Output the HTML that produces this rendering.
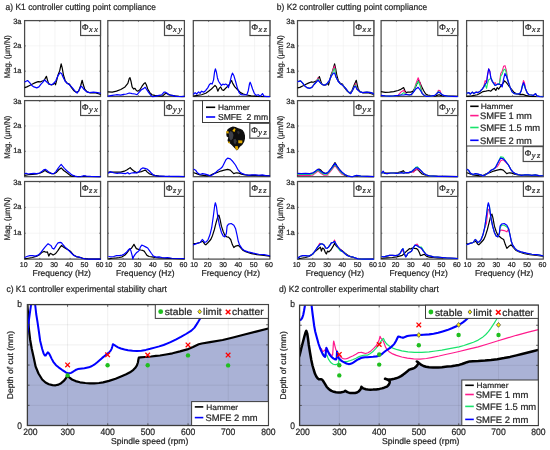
<!DOCTYPE html><html><head><meta charset="utf-8"><title>Stability charts</title><style>html,body{margin:0;padding:0;background:#fff;overflow:hidden}svg{display:block}text{stroke:#262626;stroke-width:0.22px;text-rendering:geometricPrecision}</style></head><body><svg width="550" height="450" viewBox="0 0 550 450"><defs><clipPath id="c1"><rect x="24.400000000000002" y="20.6" width="76.30000000000001" height="76.80000000000001"/></clipPath><clipPath id="c2"><rect x="107.6" y="20.6" width="77.00000000000001" height="76.80000000000001"/></clipPath><clipPath id="c3"><rect x="193.10000000000002" y="20.6" width="76.99999999999997" height="76.80000000000001"/></clipPath><clipPath id="c4"><rect x="24.400000000000002" y="100.6" width="76.30000000000001" height="77.0"/></clipPath><clipPath id="c5"><rect x="107.6" y="100.6" width="77.00000000000001" height="77.0"/></clipPath><clipPath id="c6"><rect x="193.10000000000002" y="100.6" width="76.99999999999997" height="77.0"/></clipPath><clipPath id="c7"><rect x="24.400000000000002" y="181.5" width="76.30000000000001" height="78.50000000000003"/></clipPath><clipPath id="c8"><rect x="107.6" y="181.5" width="77.00000000000001" height="78.50000000000003"/></clipPath><clipPath id="c9"><rect x="193.10000000000002" y="181.5" width="76.99999999999997" height="78.50000000000003"/></clipPath><clipPath id="c10"><rect x="297.3" y="20.6" width="76.70000000000002" height="76.80000000000001"/></clipPath><clipPath id="c11"><rect x="380.90000000000003" y="20.6" width="76.99999999999997" height="76.80000000000001"/></clipPath><clipPath id="c12"><rect x="466.40000000000003" y="20.6" width="77.09999999999994" height="76.80000000000001"/></clipPath><clipPath id="c13"><rect x="297.3" y="100.6" width="76.70000000000002" height="77.0"/></clipPath><clipPath id="c14"><rect x="380.90000000000003" y="100.6" width="76.99999999999997" height="77.0"/></clipPath><clipPath id="c15"><rect x="466.40000000000003" y="100.6" width="77.09999999999994" height="77.0"/></clipPath><clipPath id="c16"><rect x="297.3" y="181.5" width="76.70000000000002" height="78.50000000000003"/></clipPath><clipPath id="c17"><rect x="380.90000000000003" y="181.5" width="76.99999999999997" height="78.50000000000003"/></clipPath><clipPath id="c18"><rect x="466.40000000000003" y="181.5" width="77.09999999999994" height="78.50000000000003"/></clipPath><clipPath id="cc"><rect x="27.4" y="304.6" width="241.00" height="120.90"/></clipPath><clipPath id="cd"><rect x="299.6" y="305.2" width="238.70" height="120.30"/></clipPath></defs><rect width="550" height="450" fill="#fff"/><text x="5.60" y="9.90" font-family='"Liberation Sans", Arial, sans-serif' font-size="8.93" fill="#262626" text-anchor="start" textLength="150.3" lengthAdjust="spacingAndGlyphs">a) K1 controller cutting point compliance</text>
<text x="276.80" y="9.90" font-family='"Liberation Sans", Arial, sans-serif' font-size="8.93" fill="#262626" text-anchor="start" textLength="150.3" lengthAdjust="spacingAndGlyphs">b) K2 controller cutting point compliance</text>
<line x1="39.78" y1="20.6" x2="39.78" y2="96.5" stroke="#eeeeee" stroke-width="0.6"/>
<line x1="54.96" y1="20.6" x2="54.96" y2="96.5" stroke="#eeeeee" stroke-width="0.6"/>
<line x1="70.14" y1="20.6" x2="70.14" y2="96.5" stroke="#eeeeee" stroke-width="0.6"/>
<line x1="85.32" y1="20.6" x2="85.32" y2="96.5" stroke="#eeeeee" stroke-width="0.6"/>
<line x1="24.6" y1="45.90" x2="100.5" y2="45.90" stroke="#eeeeee" stroke-width="0.6"/>
<line x1="24.6" y1="71.20" x2="100.5" y2="71.20" stroke="#eeeeee" stroke-width="0.6"/>
<line x1="39.78" y1="96.5" x2="39.78" y2="95.3" stroke="#4a4a4a" stroke-width="0.8"/>
<line x1="39.78" y1="20.6" x2="39.78" y2="21.8" stroke="#4a4a4a" stroke-width="0.8"/>
<line x1="54.96" y1="96.5" x2="54.96" y2="95.3" stroke="#4a4a4a" stroke-width="0.8"/>
<line x1="54.96" y1="20.6" x2="54.96" y2="21.8" stroke="#4a4a4a" stroke-width="0.8"/>
<line x1="70.14" y1="96.5" x2="70.14" y2="95.3" stroke="#4a4a4a" stroke-width="0.8"/>
<line x1="70.14" y1="20.6" x2="70.14" y2="21.8" stroke="#4a4a4a" stroke-width="0.8"/>
<line x1="85.32" y1="96.5" x2="85.32" y2="95.3" stroke="#4a4a4a" stroke-width="0.8"/>
<line x1="85.32" y1="20.6" x2="85.32" y2="21.8" stroke="#4a4a4a" stroke-width="0.8"/>
<line x1="24.6" y1="45.90" x2="25.8" y2="45.90" stroke="#4a4a4a" stroke-width="0.8"/>
<line x1="100.5" y1="45.90" x2="99.3" y2="45.90" stroke="#4a4a4a" stroke-width="0.8"/>
<line x1="24.6" y1="71.20" x2="25.8" y2="71.20" stroke="#4a4a4a" stroke-width="0.8"/>
<line x1="100.5" y1="71.20" x2="99.3" y2="71.20" stroke="#4a4a4a" stroke-width="0.8"/>
<rect x="24.6" y="20.6" width="75.90" height="75.90" fill="none" stroke="#4a4a4a" stroke-width="1.25"/>
<g clip-path="url(#c1)">
<polyline points="24.71,87.62 26.84,86.91 29.67,85.50 32.51,84.08 35.35,82.66 38.18,81.67 40.31,81.95 41.73,81.24 43.86,80.53 45.28,78.40 46.41,76.28 47.40,79.82 48.82,84.08 50.95,84.79 53.08,84.50 54.50,82.66 55.49,84.79 56.62,80.53 58.04,74.86 59.74,70.60 61.16,63.79 62.30,68.48 63.43,74.86 65.13,80.53 67.26,83.37 69.39,84.08 71.52,87.62 73.65,90.46 76.48,92.59 78.61,91.17 80.74,85.50 82.16,80.25 83.29,84.79 84.71,89.04 87.12,91.88 90.67,93.01 94.92,92.59 99.18,94.01 101.30,94.72" fill="none" stroke="#000000" stroke-width="1.2" stroke-linejoin="round" stroke-linecap="round" />
<polyline points="24.71,81.95 27.55,80.53 29.67,82.66 31.80,85.50 33.93,86.91 36.77,87.91 38.89,86.91 41.02,84.08 43.15,81.95 44.57,79.82 45.99,81.24 47.40,82.66 49.53,84.08 51.66,84.79 53.79,83.37 55.91,80.53 58.04,75.57 60.17,72.73 61.59,73.44 63.01,76.99 65.13,81.24 67.26,83.37 69.39,84.79 72.23,87.62 75.06,91.17 77.19,93.01 79.32,89.75 81.02,86.21 82.16,86.91 83.57,89.04 86.41,91.60 89.25,92.59 93.50,92.16 97.76,92.59 101.30,93.58" fill="none" stroke="#0000ff" stroke-width="1.2" stroke-linejoin="round" stroke-linecap="round" />
</g>
<line x1="123.12" y1="20.6" x2="123.12" y2="96.5" stroke="#eeeeee" stroke-width="0.6"/>
<line x1="138.44" y1="20.6" x2="138.44" y2="96.5" stroke="#eeeeee" stroke-width="0.6"/>
<line x1="153.76" y1="20.6" x2="153.76" y2="96.5" stroke="#eeeeee" stroke-width="0.6"/>
<line x1="169.08" y1="20.6" x2="169.08" y2="96.5" stroke="#eeeeee" stroke-width="0.6"/>
<line x1="107.8" y1="45.90" x2="184.4" y2="45.90" stroke="#eeeeee" stroke-width="0.6"/>
<line x1="107.8" y1="71.20" x2="184.4" y2="71.20" stroke="#eeeeee" stroke-width="0.6"/>
<line x1="123.12" y1="96.5" x2="123.12" y2="95.3" stroke="#4a4a4a" stroke-width="0.8"/>
<line x1="123.12" y1="20.6" x2="123.12" y2="21.8" stroke="#4a4a4a" stroke-width="0.8"/>
<line x1="138.44" y1="96.5" x2="138.44" y2="95.3" stroke="#4a4a4a" stroke-width="0.8"/>
<line x1="138.44" y1="20.6" x2="138.44" y2="21.8" stroke="#4a4a4a" stroke-width="0.8"/>
<line x1="153.76" y1="96.5" x2="153.76" y2="95.3" stroke="#4a4a4a" stroke-width="0.8"/>
<line x1="153.76" y1="20.6" x2="153.76" y2="21.8" stroke="#4a4a4a" stroke-width="0.8"/>
<line x1="169.08" y1="96.5" x2="169.08" y2="95.3" stroke="#4a4a4a" stroke-width="0.8"/>
<line x1="169.08" y1="20.6" x2="169.08" y2="21.8" stroke="#4a4a4a" stroke-width="0.8"/>
<line x1="107.8" y1="45.90" x2="109.0" y2="45.90" stroke="#4a4a4a" stroke-width="0.8"/>
<line x1="184.4" y1="45.90" x2="183.20000000000002" y2="45.90" stroke="#4a4a4a" stroke-width="0.8"/>
<line x1="107.8" y1="71.20" x2="109.0" y2="71.20" stroke="#4a4a4a" stroke-width="0.8"/>
<line x1="184.4" y1="71.20" x2="183.20000000000002" y2="71.20" stroke="#4a4a4a" stroke-width="0.8"/>
<rect x="107.8" y="20.6" width="76.60" height="75.90" fill="none" stroke="#4a4a4a" stroke-width="1.25"/>
<g clip-path="url(#c2)">
<polyline points="108.00,91.88 112.26,92.16 116.51,91.17 120.77,89.47 125.02,86.91 127.86,83.37 129.28,78.40 129.99,77.70 130.98,81.24 132.11,86.91 133.53,89.04 134.95,88.33 136.37,90.46 137.79,91.17 139.91,89.75 142.04,86.21 144.17,83.37 145.16,82.66 146.30,84.79 147.72,89.04 149.84,92.59 151.97,94.72 154.81,95.43 159.06,95.85 161.90,96.13 163.32,95.43 164.74,94.01 166.16,93.30 167.57,94.01 170.41,95.00 174.67,95.85 178.92,96.42 185.30,96.84" fill="none" stroke="#000000" stroke-width="1.2" stroke-linejoin="round" stroke-linecap="round" />
<polyline points="108.00,96.13 112.26,95.43 116.51,94.72 120.77,95.14 123.60,94.43 126.44,94.01 129.28,93.01 132.11,93.58 134.95,94.01 137.08,94.72 139.21,92.16 141.33,89.75 143.46,88.62 145.16,87.34 146.30,89.04 148.43,92.16 150.55,95.00 152.68,96.84 154.81,96.42 159.06,95.43 161.90,94.72 164.03,92.16 165.45,92.16 166.87,93.01 168.99,94.72 171.83,95.43 176.09,96.42 181.76,96.70 185.30,96.13" fill="none" stroke="#0000ff" stroke-width="1.2" stroke-linejoin="round" stroke-linecap="round" />
</g>
<line x1="208.62" y1="20.6" x2="208.62" y2="96.5" stroke="#eeeeee" stroke-width="0.6"/>
<line x1="223.94" y1="20.6" x2="223.94" y2="96.5" stroke="#eeeeee" stroke-width="0.6"/>
<line x1="239.26" y1="20.6" x2="239.26" y2="96.5" stroke="#eeeeee" stroke-width="0.6"/>
<line x1="254.58" y1="20.6" x2="254.58" y2="96.5" stroke="#eeeeee" stroke-width="0.6"/>
<line x1="193.3" y1="45.90" x2="269.9" y2="45.90" stroke="#eeeeee" stroke-width="0.6"/>
<line x1="193.3" y1="71.20" x2="269.9" y2="71.20" stroke="#eeeeee" stroke-width="0.6"/>
<line x1="208.62" y1="96.5" x2="208.62" y2="95.3" stroke="#4a4a4a" stroke-width="0.8"/>
<line x1="208.62" y1="20.6" x2="208.62" y2="21.8" stroke="#4a4a4a" stroke-width="0.8"/>
<line x1="223.94" y1="96.5" x2="223.94" y2="95.3" stroke="#4a4a4a" stroke-width="0.8"/>
<line x1="223.94" y1="20.6" x2="223.94" y2="21.8" stroke="#4a4a4a" stroke-width="0.8"/>
<line x1="239.26" y1="96.5" x2="239.26" y2="95.3" stroke="#4a4a4a" stroke-width="0.8"/>
<line x1="239.26" y1="20.6" x2="239.26" y2="21.8" stroke="#4a4a4a" stroke-width="0.8"/>
<line x1="254.58" y1="96.5" x2="254.58" y2="95.3" stroke="#4a4a4a" stroke-width="0.8"/>
<line x1="254.58" y1="20.6" x2="254.58" y2="21.8" stroke="#4a4a4a" stroke-width="0.8"/>
<line x1="193.3" y1="45.90" x2="194.5" y2="45.90" stroke="#4a4a4a" stroke-width="0.8"/>
<line x1="269.9" y1="45.90" x2="268.7" y2="45.90" stroke="#4a4a4a" stroke-width="0.8"/>
<line x1="193.3" y1="71.20" x2="194.5" y2="71.20" stroke="#4a4a4a" stroke-width="0.8"/>
<line x1="269.9" y1="71.20" x2="268.7" y2="71.20" stroke="#4a4a4a" stroke-width="0.8"/>
<rect x="193.3" y="20.6" width="76.60" height="75.90" fill="none" stroke="#4a4a4a" stroke-width="1.25"/>
<g clip-path="url(#c3)">
<polyline points="193.71,96.13 197.26,95.43 201.51,94.72 205.77,93.30 208.60,91.17 211.44,89.04 213.57,86.91 214.99,85.50 216.40,86.91 217.82,91.17 219.24,88.33 220.66,86.91 222.08,89.75 223.50,90.46 224.91,89.04 227.04,86.91 229.17,84.79 230.59,81.95 231.58,80.53 232.72,83.37 234.84,86.91 237.68,89.75 240.52,92.59 243.35,94.01 246.90,95.00 251.16,95.85 256.83,96.42 263.92,96.56 270.30,96.56" fill="none" stroke="#000000" stroke-width="1.2" stroke-linejoin="round" stroke-linecap="round" />
<polyline points="193.71,94.01 195.13,92.59 196.55,94.01 198.67,91.88 200.09,93.30 201.51,91.17 203.64,92.16 205.77,90.46 207.89,87.62 209.31,84.79 210.73,83.37 212.15,84.08 213.57,79.82 214.56,72.02 215.41,68.90 216.40,72.02 217.40,77.70 218.53,81.24 219.95,83.37 221.37,85.50 222.79,84.08 224.21,84.79 225.62,84.08 227.04,84.79 228.46,87.62 229.88,82.66 231.30,76.28 232.43,73.16 233.85,75.57 235.55,81.24 237.26,87.62 239.10,92.59 241.23,94.72 244.06,95.00 246.90,94.72 248.32,90.46 249.45,84.08 250.16,82.23 251.16,84.79 252.57,89.04 254.28,93.30 256.12,95.43 258.25,94.72 260.38,96.13 262.50,93.58 263.92,96.13 266.76,96.56 270.30,96.56" fill="none" stroke="#0000ff" stroke-width="1.2" stroke-linejoin="round" stroke-linecap="round" />
</g>
<text x="21.60" y="23.60" font-family='"Liberation Sans", Arial, sans-serif' font-size="7.60" fill="#262626" text-anchor="end"  textLength="8.45" lengthAdjust="spacingAndGlyphs">3a</text>
<text x="21.60" y="47.90" font-family='"Liberation Sans", Arial, sans-serif' font-size="7.60" fill="#262626" text-anchor="end"  textLength="8.45" lengthAdjust="spacingAndGlyphs">2a</text>
<text x="21.60" y="73.20" font-family='"Liberation Sans", Arial, sans-serif' font-size="7.60" fill="#262626" text-anchor="end"  textLength="8.45" lengthAdjust="spacingAndGlyphs">1a</text>
<text transform="translate(9.9,56.75) rotate(-90)" x="0" y="0" font-family='"Liberation Sans", Arial, sans-serif' font-size="8.2" fill="#262626" text-anchor="middle" textLength="43.2" lengthAdjust="spacingAndGlyphs">Mag. (μm/N)</text>
<line x1="39.78" y1="100.6" x2="39.78" y2="176.7" stroke="#eeeeee" stroke-width="0.6"/>
<line x1="54.96" y1="100.6" x2="54.96" y2="176.7" stroke="#eeeeee" stroke-width="0.6"/>
<line x1="70.14" y1="100.6" x2="70.14" y2="176.7" stroke="#eeeeee" stroke-width="0.6"/>
<line x1="85.32" y1="100.6" x2="85.32" y2="176.7" stroke="#eeeeee" stroke-width="0.6"/>
<line x1="24.6" y1="125.97" x2="100.5" y2="125.97" stroke="#eeeeee" stroke-width="0.6"/>
<line x1="24.6" y1="151.33" x2="100.5" y2="151.33" stroke="#eeeeee" stroke-width="0.6"/>
<line x1="39.78" y1="176.7" x2="39.78" y2="175.5" stroke="#4a4a4a" stroke-width="0.8"/>
<line x1="39.78" y1="100.6" x2="39.78" y2="101.8" stroke="#4a4a4a" stroke-width="0.8"/>
<line x1="54.96" y1="176.7" x2="54.96" y2="175.5" stroke="#4a4a4a" stroke-width="0.8"/>
<line x1="54.96" y1="100.6" x2="54.96" y2="101.8" stroke="#4a4a4a" stroke-width="0.8"/>
<line x1="70.14" y1="176.7" x2="70.14" y2="175.5" stroke="#4a4a4a" stroke-width="0.8"/>
<line x1="70.14" y1="100.6" x2="70.14" y2="101.8" stroke="#4a4a4a" stroke-width="0.8"/>
<line x1="85.32" y1="176.7" x2="85.32" y2="175.5" stroke="#4a4a4a" stroke-width="0.8"/>
<line x1="85.32" y1="100.6" x2="85.32" y2="101.8" stroke="#4a4a4a" stroke-width="0.8"/>
<line x1="24.6" y1="125.97" x2="25.8" y2="125.97" stroke="#4a4a4a" stroke-width="0.8"/>
<line x1="100.5" y1="125.97" x2="99.3" y2="125.97" stroke="#4a4a4a" stroke-width="0.8"/>
<line x1="24.6" y1="151.33" x2="25.8" y2="151.33" stroke="#4a4a4a" stroke-width="0.8"/>
<line x1="100.5" y1="151.33" x2="99.3" y2="151.33" stroke="#4a4a4a" stroke-width="0.8"/>
<rect x="24.6" y="100.6" width="75.90" height="76.10" fill="none" stroke="#4a4a4a" stroke-width="1.25"/>
<g clip-path="url(#c4)">
<polyline points="24.71,175.43 28.26,174.72 32.51,174.43 36.77,174.01 40.31,173.01 43.15,171.60 44.99,170.46 46.70,171.60 48.82,172.59 51.66,173.58 54.50,173.58 56.62,172.16 58.75,169.75 61.16,167.91 63.72,170.46 66.55,172.59 69.39,174.72 71.52,176.13 75.06,176.42 80.74,176.56 87.83,176.70 101.30,176.84" fill="none" stroke="#000000" stroke-width="1.2" stroke-linejoin="round" stroke-linecap="round" />
<polyline points="24.71,173.58 26.13,173.30 28.26,174.01 31.09,173.58 33.93,173.30 36.77,173.58 39.60,173.01 41.73,171.60 43.86,169.75 45.28,169.33 46.70,170.18 48.82,172.16 51.66,173.58 53.79,173.58 55.91,171.60 58.04,168.33 60.17,165.50 61.30,164.50 62.58,166.21 64.43,168.33 66.55,170.46 68.68,172.16 70.81,174.01 72.94,175.43 75.06,176.13 77.90,176.84 80.74,176.56 83.57,175.71 86.41,176.13 90.67,176.42 94.92,176.56 101.30,176.84" fill="none" stroke="#0000ff" stroke-width="1.2" stroke-linejoin="round" stroke-linecap="round" />
</g>
<line x1="123.12" y1="100.6" x2="123.12" y2="176.7" stroke="#eeeeee" stroke-width="0.6"/>
<line x1="138.44" y1="100.6" x2="138.44" y2="176.7" stroke="#eeeeee" stroke-width="0.6"/>
<line x1="153.76" y1="100.6" x2="153.76" y2="176.7" stroke="#eeeeee" stroke-width="0.6"/>
<line x1="169.08" y1="100.6" x2="169.08" y2="176.7" stroke="#eeeeee" stroke-width="0.6"/>
<line x1="107.8" y1="125.97" x2="184.4" y2="125.97" stroke="#eeeeee" stroke-width="0.6"/>
<line x1="107.8" y1="151.33" x2="184.4" y2="151.33" stroke="#eeeeee" stroke-width="0.6"/>
<line x1="123.12" y1="176.7" x2="123.12" y2="175.5" stroke="#4a4a4a" stroke-width="0.8"/>
<line x1="123.12" y1="100.6" x2="123.12" y2="101.8" stroke="#4a4a4a" stroke-width="0.8"/>
<line x1="138.44" y1="176.7" x2="138.44" y2="175.5" stroke="#4a4a4a" stroke-width="0.8"/>
<line x1="138.44" y1="100.6" x2="138.44" y2="101.8" stroke="#4a4a4a" stroke-width="0.8"/>
<line x1="153.76" y1="176.7" x2="153.76" y2="175.5" stroke="#4a4a4a" stroke-width="0.8"/>
<line x1="153.76" y1="100.6" x2="153.76" y2="101.8" stroke="#4a4a4a" stroke-width="0.8"/>
<line x1="169.08" y1="176.7" x2="169.08" y2="175.5" stroke="#4a4a4a" stroke-width="0.8"/>
<line x1="169.08" y1="100.6" x2="169.08" y2="101.8" stroke="#4a4a4a" stroke-width="0.8"/>
<line x1="107.8" y1="125.97" x2="109.0" y2="125.97" stroke="#4a4a4a" stroke-width="0.8"/>
<line x1="184.4" y1="125.97" x2="183.20000000000002" y2="125.97" stroke="#4a4a4a" stroke-width="0.8"/>
<line x1="107.8" y1="151.33" x2="109.0" y2="151.33" stroke="#4a4a4a" stroke-width="0.8"/>
<line x1="184.4" y1="151.33" x2="183.20000000000002" y2="151.33" stroke="#4a4a4a" stroke-width="0.8"/>
<rect x="107.8" y="100.6" width="76.60" height="76.10" fill="none" stroke="#4a4a4a" stroke-width="1.25"/>
<g clip-path="url(#c5)">
<polyline points="108.71,172.16 112.26,172.16 116.51,172.16 120.77,172.16 124.31,171.17 127.15,169.75 129.28,168.33 130.27,167.62 131.40,169.04 133.53,170.74 136.37,172.59 138.50,172.16 141.33,171.60 144.17,170.46 145.59,170.18 147.01,171.88 149.13,173.58 151.97,174.72 154.81,175.43 159.06,176.13 164.74,176.42 171.83,176.56 185.30,176.84" fill="none" stroke="#000000" stroke-width="1.2" stroke-linejoin="round" stroke-linecap="round" />
<polyline points="108.71,173.01 110.13,171.60 111.55,172.16 114.38,173.01 117.22,173.30 120.06,173.01 122.89,173.30 125.73,173.58 127.86,172.59 129.28,174.01 131.40,173.01 134.24,172.59 137.08,173.01 139.21,171.60 140.91,169.04 142.75,167.91 144.88,168.33 147.01,169.04 149.13,170.74 151.26,173.01 153.39,175.00 156.23,175.85 160.48,176.13 164.74,176.42 171.83,176.42 178.92,176.42 185.30,176.56" fill="none" stroke="#0000ff" stroke-width="1.2" stroke-linejoin="round" stroke-linecap="round" />
</g>
<line x1="208.62" y1="100.6" x2="208.62" y2="176.7" stroke="#eeeeee" stroke-width="0.6"/>
<line x1="223.94" y1="100.6" x2="223.94" y2="176.7" stroke="#eeeeee" stroke-width="0.6"/>
<line x1="239.26" y1="100.6" x2="239.26" y2="176.7" stroke="#eeeeee" stroke-width="0.6"/>
<line x1="254.58" y1="100.6" x2="254.58" y2="176.7" stroke="#eeeeee" stroke-width="0.6"/>
<line x1="193.3" y1="125.97" x2="269.9" y2="125.97" stroke="#eeeeee" stroke-width="0.6"/>
<line x1="193.3" y1="151.33" x2="269.9" y2="151.33" stroke="#eeeeee" stroke-width="0.6"/>
<line x1="208.62" y1="176.7" x2="208.62" y2="175.5" stroke="#4a4a4a" stroke-width="0.8"/>
<line x1="208.62" y1="100.6" x2="208.62" y2="101.8" stroke="#4a4a4a" stroke-width="0.8"/>
<line x1="223.94" y1="176.7" x2="223.94" y2="175.5" stroke="#4a4a4a" stroke-width="0.8"/>
<line x1="223.94" y1="100.6" x2="223.94" y2="101.8" stroke="#4a4a4a" stroke-width="0.8"/>
<line x1="239.26" y1="176.7" x2="239.26" y2="175.5" stroke="#4a4a4a" stroke-width="0.8"/>
<line x1="239.26" y1="100.6" x2="239.26" y2="101.8" stroke="#4a4a4a" stroke-width="0.8"/>
<line x1="254.58" y1="176.7" x2="254.58" y2="175.5" stroke="#4a4a4a" stroke-width="0.8"/>
<line x1="254.58" y1="100.6" x2="254.58" y2="101.8" stroke="#4a4a4a" stroke-width="0.8"/>
<line x1="193.3" y1="125.97" x2="194.5" y2="125.97" stroke="#4a4a4a" stroke-width="0.8"/>
<line x1="269.9" y1="125.97" x2="268.7" y2="125.97" stroke="#4a4a4a" stroke-width="0.8"/>
<line x1="193.3" y1="151.33" x2="194.5" y2="151.33" stroke="#4a4a4a" stroke-width="0.8"/>
<line x1="269.9" y1="151.33" x2="268.7" y2="151.33" stroke="#4a4a4a" stroke-width="0.8"/>
<rect x="193.3" y="100.6" width="76.60" height="76.10" fill="none" stroke="#4a4a4a" stroke-width="1.25"/>
<g clip-path="url(#c6)">
<polyline points="193.87,172.79 196.47,173.66 199.93,174.87 203.40,175.39 206.86,175.91 210.33,175.39 213.80,173.66 217.26,172.44 220.73,171.06 224.20,170.19 227.66,169.32 230.26,170.19 231.99,171.92 233.73,173.66 236.33,172.79 238.93,173.14 241.53,174.18 244.99,174.87 250.19,175.39 255.39,175.39 262.32,175.56 270.12,175.74" fill="none" stroke="#000000" stroke-width="1.2" stroke-linejoin="round" stroke-linecap="round" />
<polyline points="193.87,169.32 195.60,170.19 197.33,172.79 199.93,174.52 202.53,173.66 205.13,174.18 207.73,174.87 210.33,175.91 212.93,174.52 215.53,172.79 218.13,170.19 220.73,168.46 222.46,166.72 224.20,163.26 225.93,159.79 227.66,158.06 230.26,158.93 232.86,161.53 235.46,164.99 237.71,169.32 239.79,171.92 242.39,173.66 244.99,174.52 248.46,175.39 251.93,174.87 255.39,174.87 258.86,175.39 262.32,174.87 265.79,175.56 270.12,175.74" fill="none" stroke="#0000ff" stroke-width="1.2" stroke-linejoin="round" stroke-linecap="round" />
</g>
<text x="21.60" y="103.60" font-family='"Liberation Sans", Arial, sans-serif' font-size="7.60" fill="#262626" text-anchor="end"  textLength="8.45" lengthAdjust="spacingAndGlyphs">3a</text>
<text x="21.60" y="127.97" font-family='"Liberation Sans", Arial, sans-serif' font-size="7.60" fill="#262626" text-anchor="end"  textLength="8.45" lengthAdjust="spacingAndGlyphs">2a</text>
<text x="21.60" y="153.33" font-family='"Liberation Sans", Arial, sans-serif' font-size="7.60" fill="#262626" text-anchor="end"  textLength="8.45" lengthAdjust="spacingAndGlyphs">1a</text>
<text transform="translate(9.9,137.15) rotate(-90)" x="0" y="0" font-family='"Liberation Sans", Arial, sans-serif' font-size="8.2" fill="#262626" text-anchor="middle" textLength="43.2" lengthAdjust="spacingAndGlyphs">Mag. (μm/N)</text>
<line x1="39.78" y1="181.5" x2="39.78" y2="259.1" stroke="#eeeeee" stroke-width="0.6"/>
<line x1="54.96" y1="181.5" x2="54.96" y2="259.1" stroke="#eeeeee" stroke-width="0.6"/>
<line x1="70.14" y1="181.5" x2="70.14" y2="259.1" stroke="#eeeeee" stroke-width="0.6"/>
<line x1="85.32" y1="181.5" x2="85.32" y2="259.1" stroke="#eeeeee" stroke-width="0.6"/>
<line x1="24.6" y1="207.37" x2="100.5" y2="207.37" stroke="#eeeeee" stroke-width="0.6"/>
<line x1="24.6" y1="233.23" x2="100.5" y2="233.23" stroke="#eeeeee" stroke-width="0.6"/>
<line x1="39.78" y1="259.1" x2="39.78" y2="257.90000000000003" stroke="#4a4a4a" stroke-width="0.8"/>
<line x1="39.78" y1="181.5" x2="39.78" y2="182.7" stroke="#4a4a4a" stroke-width="0.8"/>
<line x1="54.96" y1="259.1" x2="54.96" y2="257.90000000000003" stroke="#4a4a4a" stroke-width="0.8"/>
<line x1="54.96" y1="181.5" x2="54.96" y2="182.7" stroke="#4a4a4a" stroke-width="0.8"/>
<line x1="70.14" y1="259.1" x2="70.14" y2="257.90000000000003" stroke="#4a4a4a" stroke-width="0.8"/>
<line x1="70.14" y1="181.5" x2="70.14" y2="182.7" stroke="#4a4a4a" stroke-width="0.8"/>
<line x1="85.32" y1="259.1" x2="85.32" y2="257.90000000000003" stroke="#4a4a4a" stroke-width="0.8"/>
<line x1="85.32" y1="181.5" x2="85.32" y2="182.7" stroke="#4a4a4a" stroke-width="0.8"/>
<line x1="24.6" y1="207.37" x2="25.8" y2="207.37" stroke="#4a4a4a" stroke-width="0.8"/>
<line x1="100.5" y1="207.37" x2="99.3" y2="207.37" stroke="#4a4a4a" stroke-width="0.8"/>
<line x1="24.6" y1="233.23" x2="25.8" y2="233.23" stroke="#4a4a4a" stroke-width="0.8"/>
<line x1="100.5" y1="233.23" x2="99.3" y2="233.23" stroke="#4a4a4a" stroke-width="0.8"/>
<rect x="24.6" y="181.5" width="75.90" height="77.60" fill="none" stroke="#4a4a4a" stroke-width="1.25"/>
<g clip-path="url(#c7)">
<polyline points="24.71,258.94 28.26,258.23 32.51,257.52 36.77,256.10 39.60,254.68 41.73,252.55 43.86,251.42 45.99,252.27 47.40,251.84 48.82,256.10 50.24,253.26 51.66,253.97 53.08,255.11 54.50,254.26 55.91,253.26 58.04,250.43 60.17,247.16 61.59,245.46 63.72,247.16 66.55,249.01 69.39,250.43 71.52,252.55 73.65,255.11 76.48,256.81 80.74,257.52 83.57,258.51 87.83,258.94 101.30,259.08" fill="none" stroke="#000000" stroke-width="1.2" stroke-linejoin="round" stroke-linecap="round" />
<polyline points="24.71,257.52 26.84,256.52 29.67,255.67 32.51,255.67 35.35,256.10 38.18,255.11 40.31,253.26 42.44,250.43 44.57,247.59 46.70,245.18 48.11,243.76 49.53,244.75 50.95,245.46 52.37,248.30 53.79,249.01 55.21,247.16 56.62,244.75 58.04,242.91 60.17,242.34 61.59,242.91 63.01,244.75 65.13,247.16 67.26,249.01 69.39,251.13 71.52,253.26 73.65,255.39 76.48,256.52 79.32,257.09 82.16,258.23 84.99,258.94 90.67,259.08 101.30,259.22" fill="none" stroke="#0000ff" stroke-width="1.2" stroke-linejoin="round" stroke-linecap="round" />
</g>
<line x1="123.12" y1="181.5" x2="123.12" y2="259.1" stroke="#eeeeee" stroke-width="0.6"/>
<line x1="138.44" y1="181.5" x2="138.44" y2="259.1" stroke="#eeeeee" stroke-width="0.6"/>
<line x1="153.76" y1="181.5" x2="153.76" y2="259.1" stroke="#eeeeee" stroke-width="0.6"/>
<line x1="169.08" y1="181.5" x2="169.08" y2="259.1" stroke="#eeeeee" stroke-width="0.6"/>
<line x1="107.8" y1="207.37" x2="184.4" y2="207.37" stroke="#eeeeee" stroke-width="0.6"/>
<line x1="107.8" y1="233.23" x2="184.4" y2="233.23" stroke="#eeeeee" stroke-width="0.6"/>
<line x1="123.12" y1="259.1" x2="123.12" y2="257.90000000000003" stroke="#4a4a4a" stroke-width="0.8"/>
<line x1="123.12" y1="181.5" x2="123.12" y2="182.7" stroke="#4a4a4a" stroke-width="0.8"/>
<line x1="138.44" y1="259.1" x2="138.44" y2="257.90000000000003" stroke="#4a4a4a" stroke-width="0.8"/>
<line x1="138.44" y1="181.5" x2="138.44" y2="182.7" stroke="#4a4a4a" stroke-width="0.8"/>
<line x1="153.76" y1="259.1" x2="153.76" y2="257.90000000000003" stroke="#4a4a4a" stroke-width="0.8"/>
<line x1="153.76" y1="181.5" x2="153.76" y2="182.7" stroke="#4a4a4a" stroke-width="0.8"/>
<line x1="169.08" y1="259.1" x2="169.08" y2="257.90000000000003" stroke="#4a4a4a" stroke-width="0.8"/>
<line x1="169.08" y1="181.5" x2="169.08" y2="182.7" stroke="#4a4a4a" stroke-width="0.8"/>
<line x1="107.8" y1="207.37" x2="109.0" y2="207.37" stroke="#4a4a4a" stroke-width="0.8"/>
<line x1="184.4" y1="207.37" x2="183.20000000000002" y2="207.37" stroke="#4a4a4a" stroke-width="0.8"/>
<line x1="107.8" y1="233.23" x2="109.0" y2="233.23" stroke="#4a4a4a" stroke-width="0.8"/>
<line x1="184.4" y1="233.23" x2="183.20000000000002" y2="233.23" stroke="#4a4a4a" stroke-width="0.8"/>
<rect x="107.8" y="181.5" width="76.60" height="77.60" fill="none" stroke="#4a4a4a" stroke-width="1.25"/>
<g clip-path="url(#c8)">
<polyline points="108.71,258.94 112.26,258.23 116.51,257.94 119.35,257.52 122.18,256.81 125.02,255.11 127.15,252.55 129.28,249.72 131.40,248.30 132.82,246.17 133.96,244.33 134.95,246.17 136.37,248.58 138.50,249.43 140.62,250.00 142.75,250.43 144.17,251.13 145.59,253.26 147.01,255.39 149.13,256.52 151.97,256.81 154.81,257.52 159.06,257.94 164.74,258.23 171.83,258.51 185.30,258.94" fill="none" stroke="#000000" stroke-width="1.2" stroke-linejoin="round" stroke-linecap="round" />
<polyline points="108.71,256.52 110.84,256.81 113.67,256.52 116.51,255.67 119.35,255.67 122.18,255.11 124.31,253.97 126.44,252.27 128.57,249.72 129.99,248.58 130.98,251.13 132.11,255.39 132.82,258.94 133.53,256.81 134.95,254.68 136.37,252.84 137.79,251.84 139.21,250.43 140.34,247.16 141.76,245.18 143.46,245.74 145.59,246.88 147.72,248.01 149.84,251.13 151.26,253.26 153.39,256.10 156.23,257.09 159.06,256.81 161.90,257.52 164.74,257.94 167.57,257.52 171.83,258.23 185.30,258.51" fill="none" stroke="#0000ff" stroke-width="1.2" stroke-linejoin="round" stroke-linecap="round" />
</g>
<line x1="208.62" y1="181.5" x2="208.62" y2="259.1" stroke="#eeeeee" stroke-width="0.6"/>
<line x1="223.94" y1="181.5" x2="223.94" y2="259.1" stroke="#eeeeee" stroke-width="0.6"/>
<line x1="239.26" y1="181.5" x2="239.26" y2="259.1" stroke="#eeeeee" stroke-width="0.6"/>
<line x1="254.58" y1="181.5" x2="254.58" y2="259.1" stroke="#eeeeee" stroke-width="0.6"/>
<line x1="193.3" y1="207.37" x2="269.9" y2="207.37" stroke="#eeeeee" stroke-width="0.6"/>
<line x1="193.3" y1="233.23" x2="269.9" y2="233.23" stroke="#eeeeee" stroke-width="0.6"/>
<line x1="208.62" y1="259.1" x2="208.62" y2="257.90000000000003" stroke="#4a4a4a" stroke-width="0.8"/>
<line x1="208.62" y1="181.5" x2="208.62" y2="182.7" stroke="#4a4a4a" stroke-width="0.8"/>
<line x1="223.94" y1="259.1" x2="223.94" y2="257.90000000000003" stroke="#4a4a4a" stroke-width="0.8"/>
<line x1="223.94" y1="181.5" x2="223.94" y2="182.7" stroke="#4a4a4a" stroke-width="0.8"/>
<line x1="239.26" y1="259.1" x2="239.26" y2="257.90000000000003" stroke="#4a4a4a" stroke-width="0.8"/>
<line x1="239.26" y1="181.5" x2="239.26" y2="182.7" stroke="#4a4a4a" stroke-width="0.8"/>
<line x1="254.58" y1="259.1" x2="254.58" y2="257.90000000000003" stroke="#4a4a4a" stroke-width="0.8"/>
<line x1="254.58" y1="181.5" x2="254.58" y2="182.7" stroke="#4a4a4a" stroke-width="0.8"/>
<line x1="193.3" y1="207.37" x2="194.5" y2="207.37" stroke="#4a4a4a" stroke-width="0.8"/>
<line x1="269.9" y1="207.37" x2="268.7" y2="207.37" stroke="#4a4a4a" stroke-width="0.8"/>
<line x1="193.3" y1="233.23" x2="194.5" y2="233.23" stroke="#4a4a4a" stroke-width="0.8"/>
<line x1="269.9" y1="233.23" x2="268.7" y2="233.23" stroke="#4a4a4a" stroke-width="0.8"/>
<rect x="193.3" y="181.5" width="76.60" height="77.60" fill="none" stroke="#4a4a4a" stroke-width="1.25"/>
<g clip-path="url(#c9)">
<polyline points="193.00,243.94 196.55,243.41 200.10,242.52 202.77,241.28 204.55,243.94 205.79,244.83 208.10,242.52 210.76,239.50 212.54,235.42 214.31,229.73 216.09,222.63 217.87,216.41 218.93,215.17 220.00,219.08 221.42,226.18 223.20,231.51 224.97,235.42 226.75,236.84 228.52,237.19 230.66,239.50 232.43,244.83 233.85,247.50 235.63,246.07 238.29,245.36 240.07,247.14 242.73,250.16 246.29,251.94 251.61,253.71 256.94,254.60 264.05,255.49 271.15,256.38" fill="none" stroke="#000000" stroke-width="1.2" stroke-linejoin="round" stroke-linecap="round" />
<polyline points="193.00,244.83 196.55,243.59 200.10,242.52 202.24,239.50 203.30,240.39 204.55,242.52 206.32,241.81 208.10,239.50 209.87,235.06 211.65,227.96 213.43,215.52 214.67,205.75 215.38,202.74 216.45,206.64 217.87,217.30 219.64,226.18 221.42,232.40 223.20,235.95 224.97,236.84 226.39,233.29 227.10,226.18 228.52,224.05 231.19,223.52 233.85,225.29 235.63,228.85 237.05,235.06 238.29,241.28 239.54,244.83 241.85,248.38 244.51,250.69 248.06,251.94 253.39,253.18 258.72,254.25 264.05,254.60 271.15,256.02" fill="none" stroke="#0000ff" stroke-width="1.2" stroke-linejoin="round" stroke-linecap="round" />
</g>
<text x="21.60" y="184.50" font-family='"Liberation Sans", Arial, sans-serif' font-size="7.60" fill="#262626" text-anchor="end"  textLength="8.45" lengthAdjust="spacingAndGlyphs">3a</text>
<text x="21.60" y="209.37" font-family='"Liberation Sans", Arial, sans-serif' font-size="7.60" fill="#262626" text-anchor="end"  textLength="8.45" lengthAdjust="spacingAndGlyphs">2a</text>
<text x="21.60" y="235.23" font-family='"Liberation Sans", Arial, sans-serif' font-size="7.60" fill="#262626" text-anchor="end"  textLength="8.45" lengthAdjust="spacingAndGlyphs">1a</text>
<text transform="translate(9.9,218.80) rotate(-90)" x="0" y="0" font-family='"Liberation Sans", Arial, sans-serif' font-size="8.2" fill="#262626" text-anchor="middle" textLength="43.2" lengthAdjust="spacingAndGlyphs">Mag. (μm/N)</text>
<text x="23.70" y="266.80" font-family='"Liberation Sans", Arial, sans-serif' font-size="7.00" fill="#262626" text-anchor="middle"  textLength="7.79" lengthAdjust="spacingAndGlyphs">10</text>
<text x="38.88" y="266.80" font-family='"Liberation Sans", Arial, sans-serif' font-size="7.00" fill="#262626" text-anchor="middle"  textLength="7.79" lengthAdjust="spacingAndGlyphs">20</text>
<text x="54.06" y="266.80" font-family='"Liberation Sans", Arial, sans-serif' font-size="7.00" fill="#262626" text-anchor="middle"  textLength="7.79" lengthAdjust="spacingAndGlyphs">30</text>
<text x="69.24" y="266.80" font-family='"Liberation Sans", Arial, sans-serif' font-size="7.00" fill="#262626" text-anchor="middle"  textLength="7.79" lengthAdjust="spacingAndGlyphs">40</text>
<text x="84.42" y="266.80" font-family='"Liberation Sans", Arial, sans-serif' font-size="7.00" fill="#262626" text-anchor="middle"  textLength="7.79" lengthAdjust="spacingAndGlyphs">50</text>
<text x="99.60" y="266.80" font-family='"Liberation Sans", Arial, sans-serif' font-size="7.00" fill="#262626" text-anchor="middle"  textLength="7.79" lengthAdjust="spacingAndGlyphs">60</text>
<text x="61.75" y="276.20" font-family='"Liberation Sans", Arial, sans-serif' font-size="8.60" fill="#262626" text-anchor="middle" textLength="58.4" lengthAdjust="spacingAndGlyphs">Frequency (Hz)</text>
<text x="108.60" y="266.80" font-family='"Liberation Sans", Arial, sans-serif' font-size="7.00" fill="#262626" text-anchor="middle"  textLength="7.79" lengthAdjust="spacingAndGlyphs">10</text>
<text x="122.22" y="266.80" font-family='"Liberation Sans", Arial, sans-serif' font-size="7.00" fill="#262626" text-anchor="middle"  textLength="7.79" lengthAdjust="spacingAndGlyphs">20</text>
<text x="137.54" y="266.80" font-family='"Liberation Sans", Arial, sans-serif' font-size="7.00" fill="#262626" text-anchor="middle"  textLength="7.79" lengthAdjust="spacingAndGlyphs">30</text>
<text x="152.86" y="266.80" font-family='"Liberation Sans", Arial, sans-serif' font-size="7.00" fill="#262626" text-anchor="middle"  textLength="7.79" lengthAdjust="spacingAndGlyphs">40</text>
<text x="168.18" y="266.80" font-family='"Liberation Sans", Arial, sans-serif' font-size="7.00" fill="#262626" text-anchor="middle"  textLength="7.79" lengthAdjust="spacingAndGlyphs">50</text>
<text x="183.50" y="266.80" font-family='"Liberation Sans", Arial, sans-serif' font-size="7.00" fill="#262626" text-anchor="middle"  textLength="7.79" lengthAdjust="spacingAndGlyphs">60</text>
<text x="145.30" y="276.20" font-family='"Liberation Sans", Arial, sans-serif' font-size="8.60" fill="#262626" text-anchor="middle" textLength="58.4" lengthAdjust="spacingAndGlyphs">Frequency (Hz)</text>
<text x="194.10" y="266.80" font-family='"Liberation Sans", Arial, sans-serif' font-size="7.00" fill="#262626" text-anchor="middle"  textLength="7.79" lengthAdjust="spacingAndGlyphs">10</text>
<text x="207.72" y="266.80" font-family='"Liberation Sans", Arial, sans-serif' font-size="7.00" fill="#262626" text-anchor="middle"  textLength="7.79" lengthAdjust="spacingAndGlyphs">20</text>
<text x="223.04" y="266.80" font-family='"Liberation Sans", Arial, sans-serif' font-size="7.00" fill="#262626" text-anchor="middle"  textLength="7.79" lengthAdjust="spacingAndGlyphs">30</text>
<text x="238.36" y="266.80" font-family='"Liberation Sans", Arial, sans-serif' font-size="7.00" fill="#262626" text-anchor="middle"  textLength="7.79" lengthAdjust="spacingAndGlyphs">40</text>
<text x="253.68" y="266.80" font-family='"Liberation Sans", Arial, sans-serif' font-size="7.00" fill="#262626" text-anchor="middle"  textLength="7.79" lengthAdjust="spacingAndGlyphs">50</text>
<text x="269.00" y="266.80" font-family='"Liberation Sans", Arial, sans-serif' font-size="7.00" fill="#262626" text-anchor="middle"  textLength="7.79" lengthAdjust="spacingAndGlyphs">60</text>
<text x="230.80" y="276.20" font-family='"Liberation Sans", Arial, sans-serif' font-size="8.60" fill="#262626" text-anchor="middle" textLength="58.4" lengthAdjust="spacingAndGlyphs">Frequency (Hz)</text>
<line x1="312.76" y1="20.6" x2="312.76" y2="96.5" stroke="#eeeeee" stroke-width="0.6"/>
<line x1="328.02" y1="20.6" x2="328.02" y2="96.5" stroke="#eeeeee" stroke-width="0.6"/>
<line x1="343.28" y1="20.6" x2="343.28" y2="96.5" stroke="#eeeeee" stroke-width="0.6"/>
<line x1="358.54" y1="20.6" x2="358.54" y2="96.5" stroke="#eeeeee" stroke-width="0.6"/>
<line x1="297.5" y1="45.90" x2="373.8" y2="45.90" stroke="#eeeeee" stroke-width="0.6"/>
<line x1="297.5" y1="71.20" x2="373.8" y2="71.20" stroke="#eeeeee" stroke-width="0.6"/>
<line x1="312.76" y1="96.5" x2="312.76" y2="95.3" stroke="#4a4a4a" stroke-width="0.8"/>
<line x1="312.76" y1="20.6" x2="312.76" y2="21.8" stroke="#4a4a4a" stroke-width="0.8"/>
<line x1="328.02" y1="96.5" x2="328.02" y2="95.3" stroke="#4a4a4a" stroke-width="0.8"/>
<line x1="328.02" y1="20.6" x2="328.02" y2="21.8" stroke="#4a4a4a" stroke-width="0.8"/>
<line x1="343.28" y1="96.5" x2="343.28" y2="95.3" stroke="#4a4a4a" stroke-width="0.8"/>
<line x1="343.28" y1="20.6" x2="343.28" y2="21.8" stroke="#4a4a4a" stroke-width="0.8"/>
<line x1="358.54" y1="96.5" x2="358.54" y2="95.3" stroke="#4a4a4a" stroke-width="0.8"/>
<line x1="358.54" y1="20.6" x2="358.54" y2="21.8" stroke="#4a4a4a" stroke-width="0.8"/>
<line x1="297.5" y1="45.90" x2="298.7" y2="45.90" stroke="#4a4a4a" stroke-width="0.8"/>
<line x1="373.8" y1="45.90" x2="372.6" y2="45.90" stroke="#4a4a4a" stroke-width="0.8"/>
<line x1="297.5" y1="71.20" x2="298.7" y2="71.20" stroke="#4a4a4a" stroke-width="0.8"/>
<line x1="373.8" y1="71.20" x2="372.6" y2="71.20" stroke="#4a4a4a" stroke-width="0.8"/>
<rect x="297.5" y="20.6" width="76.30" height="75.90" fill="none" stroke="#4a4a4a" stroke-width="1.25"/>
<g clip-path="url(#c10)">
<polyline points="297.71,87.91 299.84,87.34 302.67,85.92 305.51,84.50 308.35,83.09 311.18,81.95 313.31,82.23 314.73,81.67 316.86,80.53 318.28,78.40 319.41,76.56 320.40,79.82 321.82,84.08 323.95,85.07 326.08,84.79 327.50,83.09 328.49,85.07 329.62,80.82 331.04,74.86 332.74,70.60 334.59,63.79 335.58,68.48 336.72,74.86 338.42,80.82 340.26,83.37 342.39,84.08 344.52,87.62 346.65,90.46 349.48,93.01 351.61,91.60 353.74,85.92 356.29,80.25 357.28,85.07 358.28,89.04 360.12,91.88 363.67,93.01 367.92,92.59 372.18,94.01 374.30,94.72" fill="none" stroke="#000000" stroke-width="1.2" stroke-linejoin="round" stroke-linecap="round" />
<polyline points="297.71,81.67 300.55,80.82 302.67,83.09 304.80,85.92 306.93,87.62 309.77,88.33 311.89,87.34 314.02,84.50 316.15,82.23 317.99,77.70 319.41,81.67 320.83,83.37 322.82,84.79 324.94,85.07 327.07,83.65 329.20,80.82 331.33,75.99 333.45,68.48 334.59,66.06 336.01,76.99 338.13,81.24 340.26,83.65 342.39,85.07 345.23,87.91 348.06,91.60 350.62,93.58 352.60,90.18 354.45,86.49 355.58,83.37 356.86,89.04 359.70,91.60 362.53,92.59 366.79,92.16 371.04,92.59 374.30,94.01" fill="none" stroke="#ff1a8c" stroke-width="1.1" stroke-linejoin="round" stroke-linecap="round" />
<polyline points="297.71,81.67 300.55,80.82 302.67,83.09 304.80,85.92 306.93,87.62 309.77,88.33 311.89,87.34 314.02,84.50 316.15,82.23 317.99,79.11 319.41,81.67 320.83,83.37 322.82,84.79 324.94,85.07 327.07,83.65 329.20,80.82 331.33,75.99 333.45,70.32 334.59,68.48 336.01,76.99 338.13,81.24 340.26,83.65 342.39,85.07 345.23,87.91 348.06,91.60 350.62,93.58 352.60,90.18 354.45,86.49 355.58,85.07 356.86,89.04 359.70,91.60 362.53,92.59 366.79,92.16 371.04,92.59 374.30,94.01" fill="none" stroke="#19e36b" stroke-width="1.1" stroke-linejoin="round" stroke-linecap="round" />
<polyline points="297.71,81.67 300.55,80.82 302.67,83.09 304.80,85.92 306.93,87.62 309.77,88.33 311.89,87.34 314.02,84.50 316.15,82.23 317.99,80.25 319.41,81.67 320.83,83.37 322.82,84.79 324.94,85.07 327.07,83.65 329.20,80.82 331.33,75.99 333.45,73.16 334.59,73.16 336.01,76.99 338.13,81.24 340.26,83.65 342.39,85.07 345.23,87.91 348.06,91.60 350.62,93.58 352.60,90.18 354.45,86.49 355.58,86.49 356.86,89.04 359.70,91.60 362.53,92.59 366.79,92.16 371.04,92.59 374.30,94.01" fill="none" stroke="#0000ff" stroke-width="1.2" stroke-linejoin="round" stroke-linecap="round" />
</g>
<line x1="396.42" y1="20.6" x2="396.42" y2="96.5" stroke="#eeeeee" stroke-width="0.6"/>
<line x1="411.74" y1="20.6" x2="411.74" y2="96.5" stroke="#eeeeee" stroke-width="0.6"/>
<line x1="427.06" y1="20.6" x2="427.06" y2="96.5" stroke="#eeeeee" stroke-width="0.6"/>
<line x1="442.38" y1="20.6" x2="442.38" y2="96.5" stroke="#eeeeee" stroke-width="0.6"/>
<line x1="381.1" y1="45.90" x2="457.7" y2="45.90" stroke="#eeeeee" stroke-width="0.6"/>
<line x1="381.1" y1="71.20" x2="457.7" y2="71.20" stroke="#eeeeee" stroke-width="0.6"/>
<line x1="396.42" y1="96.5" x2="396.42" y2="95.3" stroke="#4a4a4a" stroke-width="0.8"/>
<line x1="396.42" y1="20.6" x2="396.42" y2="21.8" stroke="#4a4a4a" stroke-width="0.8"/>
<line x1="411.74" y1="96.5" x2="411.74" y2="95.3" stroke="#4a4a4a" stroke-width="0.8"/>
<line x1="411.74" y1="20.6" x2="411.74" y2="21.8" stroke="#4a4a4a" stroke-width="0.8"/>
<line x1="427.06" y1="96.5" x2="427.06" y2="95.3" stroke="#4a4a4a" stroke-width="0.8"/>
<line x1="427.06" y1="20.6" x2="427.06" y2="21.8" stroke="#4a4a4a" stroke-width="0.8"/>
<line x1="442.38" y1="96.5" x2="442.38" y2="95.3" stroke="#4a4a4a" stroke-width="0.8"/>
<line x1="442.38" y1="20.6" x2="442.38" y2="21.8" stroke="#4a4a4a" stroke-width="0.8"/>
<line x1="381.1" y1="45.90" x2="382.3" y2="45.90" stroke="#4a4a4a" stroke-width="0.8"/>
<line x1="457.7" y1="45.90" x2="456.5" y2="45.90" stroke="#4a4a4a" stroke-width="0.8"/>
<line x1="381.1" y1="71.20" x2="382.3" y2="71.20" stroke="#4a4a4a" stroke-width="0.8"/>
<line x1="457.7" y1="71.20" x2="456.5" y2="71.20" stroke="#4a4a4a" stroke-width="0.8"/>
<rect x="381.1" y="20.6" width="76.60" height="75.90" fill="none" stroke="#4a4a4a" stroke-width="1.25"/>
<g clip-path="url(#c11)">
<polyline points="381.00,91.60 385.26,92.30 389.51,92.16 393.77,91.60 398.02,90.46 400.86,89.33 402.99,87.91 403.70,87.62 404.83,90.46 405.82,92.59 407.95,92.16 410.79,92.16 412.91,91.17 415.04,87.91 417.17,83.37 418.59,80.53 420.01,82.66 421.43,86.21 423.55,90.46 425.68,94.01 427.81,95.14 432.06,95.85 434.90,96.13 437.74,95.14 439.16,94.72 440.57,95.43 443.41,95.85 449.09,96.13 458.30,96.42" fill="none" stroke="#000000" stroke-width="1.2" stroke-linejoin="round" stroke-linecap="round" />
<polyline points="381.00,95.43 385.26,95.85 389.51,96.13 393.77,95.85 398.02,95.43 400.86,92.16 403.70,90.18 406.53,94.43 409.37,95.00 411.50,94.43 413.62,91.88 415.75,84.08 418.16,77.70 420.01,82.66 422.13,93.30 424.26,95.43 426.39,96.42 430.65,96.13 434.90,95.43 437.03,93.30 438.45,90.18 439.87,90.46 441.28,94.01 443.41,95.43 447.67,96.13 458.30,96.56" fill="none" stroke="#ff1a8c" stroke-width="1.1" stroke-linejoin="round" stroke-linecap="round" />
<polyline points="381.00,95.43 385.26,95.85 389.51,96.13 393.77,95.85 398.02,95.43 400.86,95.00 403.70,92.59 406.53,94.43 409.37,95.00 411.50,94.43 413.62,91.88 415.75,85.50 418.16,81.24 420.01,85.50 422.13,93.30 424.26,95.43 426.39,96.42 430.65,96.13 434.90,95.43 437.03,93.30 438.45,91.31 439.87,92.59 441.28,94.01 443.41,95.43 447.67,96.13 458.30,96.56" fill="none" stroke="#19e36b" stroke-width="1.1" stroke-linejoin="round" stroke-linecap="round" />
<polyline points="381.00,95.43 385.26,95.85 389.51,96.13 393.77,95.85 398.02,95.43 400.86,95.00 403.70,95.00 406.53,94.43 409.37,95.00 411.50,94.43 413.62,91.88 415.75,89.04 418.16,87.34 420.01,89.75 422.13,93.30 424.26,95.43 426.39,96.42 430.65,96.13 434.90,95.43 437.03,93.30 438.45,92.16 439.87,92.59 441.28,94.01 443.41,95.43 447.67,96.13 458.30,96.56" fill="none" stroke="#0000ff" stroke-width="1.2" stroke-linejoin="round" stroke-linecap="round" />
</g>
<line x1="481.94" y1="20.6" x2="481.94" y2="96.5" stroke="#eeeeee" stroke-width="0.6"/>
<line x1="497.28" y1="20.6" x2="497.28" y2="96.5" stroke="#eeeeee" stroke-width="0.6"/>
<line x1="512.62" y1="20.6" x2="512.62" y2="96.5" stroke="#eeeeee" stroke-width="0.6"/>
<line x1="527.96" y1="20.6" x2="527.96" y2="96.5" stroke="#eeeeee" stroke-width="0.6"/>
<line x1="466.6" y1="45.90" x2="543.3" y2="45.90" stroke="#eeeeee" stroke-width="0.6"/>
<line x1="466.6" y1="71.20" x2="543.3" y2="71.20" stroke="#eeeeee" stroke-width="0.6"/>
<line x1="481.94" y1="96.5" x2="481.94" y2="95.3" stroke="#4a4a4a" stroke-width="0.8"/>
<line x1="481.94" y1="20.6" x2="481.94" y2="21.8" stroke="#4a4a4a" stroke-width="0.8"/>
<line x1="497.28" y1="96.5" x2="497.28" y2="95.3" stroke="#4a4a4a" stroke-width="0.8"/>
<line x1="497.28" y1="20.6" x2="497.28" y2="21.8" stroke="#4a4a4a" stroke-width="0.8"/>
<line x1="512.62" y1="96.5" x2="512.62" y2="95.3" stroke="#4a4a4a" stroke-width="0.8"/>
<line x1="512.62" y1="20.6" x2="512.62" y2="21.8" stroke="#4a4a4a" stroke-width="0.8"/>
<line x1="527.96" y1="96.5" x2="527.96" y2="95.3" stroke="#4a4a4a" stroke-width="0.8"/>
<line x1="527.96" y1="20.6" x2="527.96" y2="21.8" stroke="#4a4a4a" stroke-width="0.8"/>
<line x1="466.6" y1="45.90" x2="467.8" y2="45.90" stroke="#4a4a4a" stroke-width="0.8"/>
<line x1="543.3" y1="45.90" x2="542.0999999999999" y2="45.90" stroke="#4a4a4a" stroke-width="0.8"/>
<line x1="466.6" y1="71.20" x2="467.8" y2="71.20" stroke="#4a4a4a" stroke-width="0.8"/>
<line x1="543.3" y1="71.20" x2="542.0999999999999" y2="71.20" stroke="#4a4a4a" stroke-width="0.8"/>
<rect x="466.6" y="20.6" width="76.70" height="75.90" fill="none" stroke="#4a4a4a" stroke-width="1.25"/>
<g clip-path="url(#c12)">
<polyline points="466.71,96.42 471.67,95.85 477.35,94.72 480.18,93.30 483.02,91.60 485.86,91.17 488.70,90.46 490.82,91.17 492.95,89.04 494.37,88.33 495.79,90.46 497.21,87.62 498.62,89.04 500.75,86.21 502.88,83.37 504.58,80.82 506.43,82.66 508.55,85.50 511.39,89.04 514.23,92.59 517.06,94.01 519.90,94.72 522.74,94.43 525.57,95.43 529.83,96.42 543.30,96.56" fill="none" stroke="#000000" stroke-width="1.2" stroke-linejoin="round" stroke-linecap="round" />
<polyline points="466.71,93.30 468.84,92.59 470.26,94.01 472.38,92.16 473.80,93.58 475.93,92.16 478.06,92.59 480.18,91.17 482.31,89.04 483.73,86.91 485.15,80.53 486.57,82.66 487.56,74.86 488.70,68.90 489.83,71.31 490.82,77.70 492.24,81.24 493.66,83.37 495.08,82.66 496.50,84.79 497.91,84.08 499.33,84.08 500.75,73.44 502.17,71.31 503.59,66.35 505.01,65.64 506.43,70.60 507.84,80.53 509.97,86.91 512.10,91.88 514.23,93.58 517.06,94.01 519.90,93.58 521.32,90.46 522.45,85.50 523.45,80.53 524.44,82.66 525.57,89.04 527.28,93.01 529.12,94.72 531.25,95.00 533.38,95.43 535.50,93.58 536.92,95.85 539.76,96.56 543.30,96.84" fill="none" stroke="#ff1a8c" stroke-width="1.1" stroke-linejoin="round" stroke-linecap="round" />
<polyline points="466.71,93.30 468.84,92.59 470.26,94.01 472.38,92.16 473.80,93.58 475.93,92.16 478.06,92.59 480.18,91.17 482.31,89.04 483.73,86.91 485.15,84.08 486.57,88.33 487.56,83.37 488.70,79.82 489.83,79.11 490.82,77.70 492.24,81.24 493.66,83.37 495.08,85.50 496.50,84.79 497.91,84.08 499.33,84.08 500.75,76.28 502.17,74.15 503.59,69.89 505.01,69.18 506.43,73.44 507.84,80.53 509.97,86.91 512.10,91.88 514.23,93.58 517.06,94.01 519.90,93.58 521.32,90.46 522.45,85.50 523.45,84.50 524.44,86.21 525.57,89.04 527.28,93.01 529.12,94.72 531.25,95.00 533.38,95.43 535.50,93.58 536.92,95.85 539.76,96.56 543.30,96.84" fill="none" stroke="#19e36b" stroke-width="1.1" stroke-linejoin="round" stroke-linecap="round" />
<polyline points="466.71,93.30 468.84,92.59 470.26,94.01 472.38,92.16 473.80,93.58 475.93,92.16 478.06,92.59 480.18,91.17 482.31,89.04 483.73,86.91 485.15,84.08 486.57,82.66 487.56,74.86 488.70,68.90 489.83,71.31 490.82,77.70 492.24,81.24 493.66,83.37 495.08,85.50 496.50,84.79 497.91,84.08 499.33,84.08 500.75,85.07 502.17,86.91 503.59,79.11 505.01,73.44 506.43,76.28 507.84,80.53 509.97,86.91 512.10,91.88 514.23,93.58 517.06,94.01 519.90,93.58 521.32,90.46 522.45,85.50 523.45,82.66 524.44,84.79 525.57,89.04 527.28,93.01 529.12,94.72 531.25,95.00 533.38,95.43 535.50,93.58 536.92,95.85 539.76,96.56 543.30,96.84" fill="none" stroke="#0000ff" stroke-width="1.2" stroke-linejoin="round" stroke-linecap="round" />
</g>
<text x="294.80" y="23.60" font-family='"Liberation Sans", Arial, sans-serif' font-size="7.60" fill="#262626" text-anchor="end"  textLength="8.45" lengthAdjust="spacingAndGlyphs">3a</text>
<text x="294.80" y="47.90" font-family='"Liberation Sans", Arial, sans-serif' font-size="7.60" fill="#262626" text-anchor="end"  textLength="8.45" lengthAdjust="spacingAndGlyphs">2a</text>
<text x="294.80" y="73.20" font-family='"Liberation Sans", Arial, sans-serif' font-size="7.60" fill="#262626" text-anchor="end"  textLength="8.45" lengthAdjust="spacingAndGlyphs">1a</text>
<text transform="translate(283.0,56.75) rotate(-90)" x="0" y="0" font-family='"Liberation Sans", Arial, sans-serif' font-size="8.2" fill="#262626" text-anchor="middle" textLength="43.2" lengthAdjust="spacingAndGlyphs">Mag. (μm/N)</text>
<line x1="312.76" y1="100.6" x2="312.76" y2="176.7" stroke="#eeeeee" stroke-width="0.6"/>
<line x1="328.02" y1="100.6" x2="328.02" y2="176.7" stroke="#eeeeee" stroke-width="0.6"/>
<line x1="343.28" y1="100.6" x2="343.28" y2="176.7" stroke="#eeeeee" stroke-width="0.6"/>
<line x1="358.54" y1="100.6" x2="358.54" y2="176.7" stroke="#eeeeee" stroke-width="0.6"/>
<line x1="297.5" y1="125.97" x2="373.8" y2="125.97" stroke="#eeeeee" stroke-width="0.6"/>
<line x1="297.5" y1="151.33" x2="373.8" y2="151.33" stroke="#eeeeee" stroke-width="0.6"/>
<line x1="312.76" y1="176.7" x2="312.76" y2="175.5" stroke="#4a4a4a" stroke-width="0.8"/>
<line x1="312.76" y1="100.6" x2="312.76" y2="101.8" stroke="#4a4a4a" stroke-width="0.8"/>
<line x1="328.02" y1="176.7" x2="328.02" y2="175.5" stroke="#4a4a4a" stroke-width="0.8"/>
<line x1="328.02" y1="100.6" x2="328.02" y2="101.8" stroke="#4a4a4a" stroke-width="0.8"/>
<line x1="343.28" y1="176.7" x2="343.28" y2="175.5" stroke="#4a4a4a" stroke-width="0.8"/>
<line x1="343.28" y1="100.6" x2="343.28" y2="101.8" stroke="#4a4a4a" stroke-width="0.8"/>
<line x1="358.54" y1="176.7" x2="358.54" y2="175.5" stroke="#4a4a4a" stroke-width="0.8"/>
<line x1="358.54" y1="100.6" x2="358.54" y2="101.8" stroke="#4a4a4a" stroke-width="0.8"/>
<line x1="297.5" y1="125.97" x2="298.7" y2="125.97" stroke="#4a4a4a" stroke-width="0.8"/>
<line x1="373.8" y1="125.97" x2="372.6" y2="125.97" stroke="#4a4a4a" stroke-width="0.8"/>
<line x1="297.5" y1="151.33" x2="298.7" y2="151.33" stroke="#4a4a4a" stroke-width="0.8"/>
<line x1="373.8" y1="151.33" x2="372.6" y2="151.33" stroke="#4a4a4a" stroke-width="0.8"/>
<rect x="297.5" y="100.6" width="76.30" height="76.10" fill="none" stroke="#4a4a4a" stroke-width="1.25"/>
<g clip-path="url(#c13)">
<polyline points="297.71,175.43 305.51,174.43 313.31,173.01 316.86,170.46 318.99,169.04 320.40,169.75 322.53,172.16 325.37,173.58 328.21,172.59 331.04,168.76 333.60,164.79 335.01,162.66 336.72,165.50 339.55,169.75 342.39,173.01 345.23,175.43 348.06,176.42 374.30,176.84" fill="none" stroke="#000000" stroke-width="1.2" stroke-linejoin="round" stroke-linecap="round" />
<polyline points="297.71,175.28 301.26,175.57 305.51,175.28 309.77,175.57 312.60,175.00 315.44,173.16 317.57,171.31 318.99,171.74 321.11,173.58 323.95,175.28 326.79,175.28 329.62,172.45 332.46,168.90 335.01,165.35 336.72,167.91 339.55,171.74 342.39,174.57 345.23,174.72 348.06,176.13 352.32,176.84 356.57,175.43 360.83,176.13 374.30,176.56" fill="none" stroke="#ff1a8c" stroke-width="1.1" stroke-linejoin="round" stroke-linecap="round" />
<polyline points="297.71,174.29 301.26,174.57 305.51,174.29 309.77,174.57 312.60,174.01 315.44,172.16 317.57,170.32 318.99,170.74 321.11,172.59 323.95,174.29 326.79,174.29 329.62,171.45 332.46,167.91 335.01,164.36 336.72,166.91 339.55,170.74 342.39,173.58 345.23,174.72 348.06,176.13 352.32,176.84 356.57,175.43 360.83,176.13 374.30,176.56" fill="none" stroke="#19e36b" stroke-width="1.1" stroke-linejoin="round" stroke-linecap="round" />
<polyline points="297.71,173.30 301.26,173.58 305.51,173.30 309.77,173.58 312.60,173.01 315.44,171.17 317.57,169.33 318.99,169.75 321.11,171.60 323.95,173.30 326.79,173.30 329.62,170.46 332.46,166.91 335.01,163.37 336.72,165.92 339.55,169.75 342.39,172.59 345.23,174.72 348.06,176.13 352.32,176.84 356.57,175.43 360.83,176.13 374.30,176.56" fill="none" stroke="#0000ff" stroke-width="1.2" stroke-linejoin="round" stroke-linecap="round" />
</g>
<line x1="396.42" y1="100.6" x2="396.42" y2="176.7" stroke="#eeeeee" stroke-width="0.6"/>
<line x1="411.74" y1="100.6" x2="411.74" y2="176.7" stroke="#eeeeee" stroke-width="0.6"/>
<line x1="427.06" y1="100.6" x2="427.06" y2="176.7" stroke="#eeeeee" stroke-width="0.6"/>
<line x1="442.38" y1="100.6" x2="442.38" y2="176.7" stroke="#eeeeee" stroke-width="0.6"/>
<line x1="381.1" y1="125.97" x2="457.7" y2="125.97" stroke="#eeeeee" stroke-width="0.6"/>
<line x1="381.1" y1="151.33" x2="457.7" y2="151.33" stroke="#eeeeee" stroke-width="0.6"/>
<line x1="396.42" y1="176.7" x2="396.42" y2="175.5" stroke="#4a4a4a" stroke-width="0.8"/>
<line x1="396.42" y1="100.6" x2="396.42" y2="101.8" stroke="#4a4a4a" stroke-width="0.8"/>
<line x1="411.74" y1="176.7" x2="411.74" y2="175.5" stroke="#4a4a4a" stroke-width="0.8"/>
<line x1="411.74" y1="100.6" x2="411.74" y2="101.8" stroke="#4a4a4a" stroke-width="0.8"/>
<line x1="427.06" y1="176.7" x2="427.06" y2="175.5" stroke="#4a4a4a" stroke-width="0.8"/>
<line x1="427.06" y1="100.6" x2="427.06" y2="101.8" stroke="#4a4a4a" stroke-width="0.8"/>
<line x1="442.38" y1="176.7" x2="442.38" y2="175.5" stroke="#4a4a4a" stroke-width="0.8"/>
<line x1="442.38" y1="100.6" x2="442.38" y2="101.8" stroke="#4a4a4a" stroke-width="0.8"/>
<line x1="381.1" y1="125.97" x2="382.3" y2="125.97" stroke="#4a4a4a" stroke-width="0.8"/>
<line x1="457.7" y1="125.97" x2="456.5" y2="125.97" stroke="#4a4a4a" stroke-width="0.8"/>
<line x1="381.1" y1="151.33" x2="382.3" y2="151.33" stroke="#4a4a4a" stroke-width="0.8"/>
<line x1="457.7" y1="151.33" x2="456.5" y2="151.33" stroke="#4a4a4a" stroke-width="0.8"/>
<rect x="381.1" y="100.6" width="76.60" height="76.10" fill="none" stroke="#4a4a4a" stroke-width="1.25"/>
<g clip-path="url(#c14)">
<polyline points="381.71,172.59 386.67,173.01 392.35,173.01 398.02,172.59 401.57,171.60 403.27,170.74 404.40,172.16 406.53,173.01 409.37,172.59 412.21,171.60 415.04,170.46 417.17,169.04 418.59,170.46 420.01,172.16 422.13,174.01 424.97,175.00 429.23,175.85 437.74,176.42 458.30,176.84" fill="none" stroke="#000000" stroke-width="1.2" stroke-linejoin="round" stroke-linecap="round" />
<polyline points="381.71,173.01 383.13,172.16 384.55,173.30 387.38,173.58 390.93,173.01 393.77,173.01 396.60,173.30 399.44,173.01 401.57,172.59 403.70,173.30 405.82,172.59 408.66,172.59 411.50,171.60 413.62,172.16 415.75,169.75 417.60,168.76 419.30,170.46 421.43,171.17 423.55,173.58 426.39,175.00 429.23,175.85 433.48,176.13 437.74,176.42 444.83,176.42 458.30,176.56" fill="none" stroke="#ff1a8c" stroke-width="1.1" stroke-linejoin="round" stroke-linecap="round" />
<polyline points="381.71,173.01 383.13,172.59 384.55,173.30 387.38,173.58 390.93,173.01 393.77,173.01 396.60,173.30 399.44,173.01 401.57,172.59 403.70,173.30 405.82,172.59 408.66,172.59 411.50,171.60 413.62,169.75 415.75,167.34 417.60,166.91 419.30,169.04 421.43,171.17 423.55,173.58 426.39,175.00 429.23,175.85 433.48,176.13 437.74,176.42 444.83,176.42 458.30,176.56" fill="none" stroke="#19e36b" stroke-width="1.1" stroke-linejoin="round" stroke-linecap="round" />
<polyline points="381.71,173.01 383.13,171.17 384.55,173.30 387.38,173.58 390.93,173.01 393.77,173.01 396.60,173.30 399.44,173.01 401.57,172.59 403.70,173.30 405.82,172.59 408.66,172.59 411.50,171.60 413.62,169.75 415.75,167.91 417.60,167.91 419.30,169.04 421.43,171.17 423.55,173.58 426.39,175.00 429.23,175.85 433.48,176.13 437.74,176.42 444.83,176.42 458.30,176.56" fill="none" stroke="#0000ff" stroke-width="1.2" stroke-linejoin="round" stroke-linecap="round" />
</g>
<line x1="481.94" y1="100.6" x2="481.94" y2="176.7" stroke="#eeeeee" stroke-width="0.6"/>
<line x1="497.28" y1="100.6" x2="497.28" y2="176.7" stroke="#eeeeee" stroke-width="0.6"/>
<line x1="512.62" y1="100.6" x2="512.62" y2="176.7" stroke="#eeeeee" stroke-width="0.6"/>
<line x1="527.96" y1="100.6" x2="527.96" y2="176.7" stroke="#eeeeee" stroke-width="0.6"/>
<line x1="466.6" y1="125.97" x2="543.3" y2="125.97" stroke="#eeeeee" stroke-width="0.6"/>
<line x1="466.6" y1="151.33" x2="543.3" y2="151.33" stroke="#eeeeee" stroke-width="0.6"/>
<line x1="481.94" y1="176.7" x2="481.94" y2="175.5" stroke="#4a4a4a" stroke-width="0.8"/>
<line x1="481.94" y1="100.6" x2="481.94" y2="101.8" stroke="#4a4a4a" stroke-width="0.8"/>
<line x1="497.28" y1="176.7" x2="497.28" y2="175.5" stroke="#4a4a4a" stroke-width="0.8"/>
<line x1="497.28" y1="100.6" x2="497.28" y2="101.8" stroke="#4a4a4a" stroke-width="0.8"/>
<line x1="512.62" y1="176.7" x2="512.62" y2="175.5" stroke="#4a4a4a" stroke-width="0.8"/>
<line x1="512.62" y1="100.6" x2="512.62" y2="101.8" stroke="#4a4a4a" stroke-width="0.8"/>
<line x1="527.96" y1="176.7" x2="527.96" y2="175.5" stroke="#4a4a4a" stroke-width="0.8"/>
<line x1="527.96" y1="100.6" x2="527.96" y2="101.8" stroke="#4a4a4a" stroke-width="0.8"/>
<line x1="466.6" y1="125.97" x2="467.8" y2="125.97" stroke="#4a4a4a" stroke-width="0.8"/>
<line x1="543.3" y1="125.97" x2="542.0999999999999" y2="125.97" stroke="#4a4a4a" stroke-width="0.8"/>
<line x1="466.6" y1="151.33" x2="467.8" y2="151.33" stroke="#4a4a4a" stroke-width="0.8"/>
<line x1="543.3" y1="151.33" x2="542.0999999999999" y2="151.33" stroke="#4a4a4a" stroke-width="0.8"/>
<rect x="466.6" y="100.6" width="76.70" height="76.10" fill="none" stroke="#4a4a4a" stroke-width="1.25"/>
<g clip-path="url(#c15)">
<polyline points="466.87,172.79 469.47,173.66 472.93,174.87 476.40,175.39 479.86,175.91 483.33,175.39 486.80,173.66 490.26,172.44 493.73,171.06 497.20,170.19 500.66,169.32 503.26,170.19 504.99,171.92 506.73,173.66 509.33,172.79 511.93,173.14 514.53,174.18 517.99,174.87 523.19,175.39 535.32,175.56 543.12,175.74" fill="none" stroke="#000000" stroke-width="1.2" stroke-linejoin="round" stroke-linecap="round" />
<polyline points="466.87,169.32 468.60,170.19 470.33,173.14 472.93,174.52 475.53,173.66 478.13,174.18 480.73,174.87 483.33,175.91 485.93,174.52 488.53,172.79 491.13,170.19 493.73,168.98 495.46,167.59 497.20,166.72 498.93,164.12 500.66,160.66 503.26,159.79 505.86,162.39 508.46,164.99 510.71,169.32 512.79,171.92 515.39,173.66 517.99,174.52 521.46,175.39 524.93,174.87 528.39,174.87 531.86,175.39 535.32,174.87 538.79,175.56 543.12,175.74" fill="none" stroke="#ff1a8c" stroke-width="1.1" stroke-linejoin="round" stroke-linecap="round" />
<polyline points="466.87,169.32 468.60,170.19 470.33,173.14 472.93,174.52 475.53,173.66 478.13,174.18 480.73,174.87 483.33,175.91 485.93,174.52 488.53,172.79 491.13,170.19 493.73,168.98 495.46,167.59 497.20,164.12 498.93,160.66 500.66,156.85 503.26,157.19 505.86,161.53 508.46,164.99 510.71,169.32 512.79,171.92 515.39,173.66 517.99,174.52 521.46,175.39 524.93,174.87 528.39,174.87 531.86,175.39 535.32,174.87 538.79,175.56 543.12,175.74" fill="none" stroke="#19e36b" stroke-width="1.1" stroke-linejoin="round" stroke-linecap="round" />
<polyline points="466.87,169.32 468.60,170.19 470.33,173.14 472.93,174.52 475.53,173.66 478.13,174.18 480.73,174.87 483.33,175.91 485.93,174.52 488.53,172.79 491.13,170.19 493.73,168.98 495.46,167.59 497.20,164.12 498.93,160.66 500.66,158.06 503.26,158.93 505.86,161.53 508.46,164.99 510.71,169.32 512.79,171.92 515.39,173.66 517.99,174.52 521.46,175.39 524.93,174.87 528.39,174.87 531.86,175.39 535.32,174.87 538.79,175.56 543.12,175.74" fill="none" stroke="#0000ff" stroke-width="1.2" stroke-linejoin="round" stroke-linecap="round" />
</g>
<text x="294.80" y="103.60" font-family='"Liberation Sans", Arial, sans-serif' font-size="7.60" fill="#262626" text-anchor="end"  textLength="8.45" lengthAdjust="spacingAndGlyphs">3a</text>
<text x="294.80" y="127.97" font-family='"Liberation Sans", Arial, sans-serif' font-size="7.60" fill="#262626" text-anchor="end"  textLength="8.45" lengthAdjust="spacingAndGlyphs">2a</text>
<text x="294.80" y="153.33" font-family='"Liberation Sans", Arial, sans-serif' font-size="7.60" fill="#262626" text-anchor="end"  textLength="8.45" lengthAdjust="spacingAndGlyphs">1a</text>
<text transform="translate(283.0,137.15) rotate(-90)" x="0" y="0" font-family='"Liberation Sans", Arial, sans-serif' font-size="8.2" fill="#262626" text-anchor="middle" textLength="43.2" lengthAdjust="spacingAndGlyphs">Mag. (μm/N)</text>
<line x1="312.76" y1="181.5" x2="312.76" y2="259.1" stroke="#eeeeee" stroke-width="0.6"/>
<line x1="328.02" y1="181.5" x2="328.02" y2="259.1" stroke="#eeeeee" stroke-width="0.6"/>
<line x1="343.28" y1="181.5" x2="343.28" y2="259.1" stroke="#eeeeee" stroke-width="0.6"/>
<line x1="358.54" y1="181.5" x2="358.54" y2="259.1" stroke="#eeeeee" stroke-width="0.6"/>
<line x1="297.5" y1="207.37" x2="373.8" y2="207.37" stroke="#eeeeee" stroke-width="0.6"/>
<line x1="297.5" y1="233.23" x2="373.8" y2="233.23" stroke="#eeeeee" stroke-width="0.6"/>
<line x1="312.76" y1="259.1" x2="312.76" y2="257.90000000000003" stroke="#4a4a4a" stroke-width="0.8"/>
<line x1="312.76" y1="181.5" x2="312.76" y2="182.7" stroke="#4a4a4a" stroke-width="0.8"/>
<line x1="328.02" y1="259.1" x2="328.02" y2="257.90000000000003" stroke="#4a4a4a" stroke-width="0.8"/>
<line x1="328.02" y1="181.5" x2="328.02" y2="182.7" stroke="#4a4a4a" stroke-width="0.8"/>
<line x1="343.28" y1="259.1" x2="343.28" y2="257.90000000000003" stroke="#4a4a4a" stroke-width="0.8"/>
<line x1="343.28" y1="181.5" x2="343.28" y2="182.7" stroke="#4a4a4a" stroke-width="0.8"/>
<line x1="358.54" y1="259.1" x2="358.54" y2="257.90000000000003" stroke="#4a4a4a" stroke-width="0.8"/>
<line x1="358.54" y1="181.5" x2="358.54" y2="182.7" stroke="#4a4a4a" stroke-width="0.8"/>
<line x1="297.5" y1="207.37" x2="298.7" y2="207.37" stroke="#4a4a4a" stroke-width="0.8"/>
<line x1="373.8" y1="207.37" x2="372.6" y2="207.37" stroke="#4a4a4a" stroke-width="0.8"/>
<line x1="297.5" y1="233.23" x2="298.7" y2="233.23" stroke="#4a4a4a" stroke-width="0.8"/>
<line x1="373.8" y1="233.23" x2="372.6" y2="233.23" stroke="#4a4a4a" stroke-width="0.8"/>
<rect x="297.5" y="181.5" width="76.30" height="77.60" fill="none" stroke="#4a4a4a" stroke-width="1.25"/>
<g clip-path="url(#c16)">
<polyline points="297.71,258.94 301.26,258.23 305.51,257.52 309.77,256.10 312.60,254.26 314.73,251.84 316.86,250.00 318.99,248.30 320.40,247.16 321.40,251.13 322.53,248.01 323.95,249.01 325.37,252.55 326.36,253.97 327.50,251.13 328.91,251.84 331.04,249.72 333.17,246.17 334.59,243.33 336.72,246.60 339.55,249.01 342.39,250.85 345.23,253.26 348.06,255.39 350.90,256.81 353.74,257.52 356.57,258.51 360.83,258.94 374.30,259.08" fill="none" stroke="#000000" stroke-width="1.2" stroke-linejoin="round" stroke-linecap="round" />
<polyline points="297.71,258.23 299.84,256.52 302.67,255.67 305.51,255.67 308.35,256.10 311.18,255.11 313.31,253.26 315.44,250.43 317.57,247.16 319.70,243.33 321.11,243.76 322.53,244.04 324.23,245.18 325.65,248.01 327.07,248.30 328.49,247.16 329.91,245.18 331.33,242.91 333.17,242.34 334.59,240.07 336.01,244.04 338.13,247.16 340.26,249.72 342.39,251.42 344.52,253.26 346.65,255.11 349.48,256.52 352.32,256.81 355.16,257.94 357.99,258.94 363.67,259.08 374.30,259.22" fill="none" stroke="#ff1a8c" stroke-width="1.1" stroke-linejoin="round" stroke-linecap="round" />
<polyline points="297.71,258.23 299.84,256.52 302.67,255.67 305.51,255.67 308.35,256.10 311.18,255.11 313.31,253.26 315.44,250.43 317.57,247.16 319.70,244.75 321.11,243.76 322.53,244.04 324.23,245.18 325.65,248.01 327.07,248.30 328.49,247.16 329.91,245.18 331.33,242.91 333.17,242.34 334.59,241.49 336.01,244.04 338.13,248.01 340.26,250.85 342.39,251.42 344.52,253.26 346.65,255.11 349.48,256.52 352.32,256.81 355.16,257.94 357.99,258.94 363.67,259.08 374.30,259.22" fill="none" stroke="#19e36b" stroke-width="1.1" stroke-linejoin="round" stroke-linecap="round" />
<polyline points="297.71,258.23 299.84,256.52 302.67,255.67 305.51,255.67 308.35,256.10 311.18,255.11 313.31,253.26 315.44,250.43 317.57,247.16 319.70,244.75 321.11,243.76 322.53,244.04 324.23,245.18 325.65,248.01 327.07,248.30 328.49,247.16 329.91,245.18 331.33,242.91 333.17,242.34 334.59,241.49 336.01,244.04 338.13,247.16 340.26,249.72 342.39,251.42 344.52,253.26 346.65,255.11 349.48,256.52 352.32,256.81 355.16,257.94 357.99,258.94 363.67,259.08 374.30,259.22" fill="none" stroke="#0000ff" stroke-width="1.2" stroke-linejoin="round" stroke-linecap="round" />
</g>
<line x1="396.42" y1="181.5" x2="396.42" y2="259.1" stroke="#eeeeee" stroke-width="0.6"/>
<line x1="411.74" y1="181.5" x2="411.74" y2="259.1" stroke="#eeeeee" stroke-width="0.6"/>
<line x1="427.06" y1="181.5" x2="427.06" y2="259.1" stroke="#eeeeee" stroke-width="0.6"/>
<line x1="442.38" y1="181.5" x2="442.38" y2="259.1" stroke="#eeeeee" stroke-width="0.6"/>
<line x1="381.1" y1="207.37" x2="457.7" y2="207.37" stroke="#eeeeee" stroke-width="0.6"/>
<line x1="381.1" y1="233.23" x2="457.7" y2="233.23" stroke="#eeeeee" stroke-width="0.6"/>
<line x1="396.42" y1="259.1" x2="396.42" y2="257.90000000000003" stroke="#4a4a4a" stroke-width="0.8"/>
<line x1="396.42" y1="181.5" x2="396.42" y2="182.7" stroke="#4a4a4a" stroke-width="0.8"/>
<line x1="411.74" y1="259.1" x2="411.74" y2="257.90000000000003" stroke="#4a4a4a" stroke-width="0.8"/>
<line x1="411.74" y1="181.5" x2="411.74" y2="182.7" stroke="#4a4a4a" stroke-width="0.8"/>
<line x1="427.06" y1="259.1" x2="427.06" y2="257.90000000000003" stroke="#4a4a4a" stroke-width="0.8"/>
<line x1="427.06" y1="181.5" x2="427.06" y2="182.7" stroke="#4a4a4a" stroke-width="0.8"/>
<line x1="442.38" y1="259.1" x2="442.38" y2="257.90000000000003" stroke="#4a4a4a" stroke-width="0.8"/>
<line x1="442.38" y1="181.5" x2="442.38" y2="182.7" stroke="#4a4a4a" stroke-width="0.8"/>
<line x1="381.1" y1="207.37" x2="382.3" y2="207.37" stroke="#4a4a4a" stroke-width="0.8"/>
<line x1="457.7" y1="207.37" x2="456.5" y2="207.37" stroke="#4a4a4a" stroke-width="0.8"/>
<line x1="381.1" y1="233.23" x2="382.3" y2="233.23" stroke="#4a4a4a" stroke-width="0.8"/>
<line x1="457.7" y1="233.23" x2="456.5" y2="233.23" stroke="#4a4a4a" stroke-width="0.8"/>
<rect x="381.1" y="181.5" width="76.60" height="77.60" fill="none" stroke="#4a4a4a" stroke-width="1.25"/>
<g clip-path="url(#c17)">
<polyline points="381.71,258.23 386.67,257.94 392.35,257.52 396.60,256.81 399.44,256.10 402.28,255.39 403.70,253.97 405.82,251.84 407.95,250.00 409.37,248.58 410.79,249.01 412.21,248.01 414.33,248.30 416.46,248.58 417.88,249.72 419.30,252.55 420.43,255.67 422.13,255.11 424.26,254.26 426.39,256.10 429.23,257.09 433.48,257.52 437.74,257.94 458.30,258.51" fill="none" stroke="#000000" stroke-width="1.2" stroke-linejoin="round" stroke-linecap="round" />
<polyline points="381.71,256.52 383.84,256.81 386.67,256.10 389.51,255.39 392.35,255.39 395.18,255.67 398.02,255.11 400.15,253.26 401.99,249.72 402.99,251.42 403.98,252.27 405.11,255.67 405.82,256.81 406.82,255.39 407.95,253.26 409.37,252.55 411.50,251.13 413.34,247.59 415.04,245.18 417.17,244.04 419.30,247.16 421.43,248.30 423.55,251.42 425.68,253.97 427.81,255.39 430.65,256.10 433.48,256.81 437.74,257.09 441.99,257.52 446.25,257.94 458.30,258.51" fill="none" stroke="#ff1a8c" stroke-width="1.1" stroke-linejoin="round" stroke-linecap="round" />
<polyline points="381.71,256.52 383.84,256.81 386.67,256.10 389.51,255.39 392.35,255.39 395.18,255.67 398.02,255.11 400.15,253.26 401.99,249.72 402.99,248.58 403.98,252.27 405.11,255.67 405.82,256.81 406.82,255.39 407.95,253.26 409.37,252.55 411.50,251.13 413.34,247.59 415.04,245.18 417.17,245.74 419.30,247.16 421.43,247.16 423.55,250.43 425.68,253.97 427.81,255.39 430.65,256.10 433.48,256.81 437.74,257.09 441.99,257.52 446.25,257.94 458.30,258.51" fill="none" stroke="#19e36b" stroke-width="1.1" stroke-linejoin="round" stroke-linecap="round" />
<polyline points="381.71,256.52 383.84,256.81 386.67,256.10 389.51,255.39 392.35,255.39 395.18,255.67 398.02,255.11 400.15,253.26 401.99,249.72 402.99,248.58 403.98,252.27 405.11,255.67 405.82,256.81 406.82,255.39 407.95,253.26 409.37,252.55 411.50,251.13 413.34,247.59 415.04,245.18 417.17,245.74 419.30,247.16 421.43,248.30 423.55,251.42 425.68,253.97 427.81,255.39 430.65,256.10 433.48,256.81 437.74,257.09 441.99,257.52 446.25,257.94 458.30,258.51" fill="none" stroke="#0000ff" stroke-width="1.2" stroke-linejoin="round" stroke-linecap="round" />
</g>
<line x1="481.94" y1="181.5" x2="481.94" y2="259.1" stroke="#eeeeee" stroke-width="0.6"/>
<line x1="497.28" y1="181.5" x2="497.28" y2="259.1" stroke="#eeeeee" stroke-width="0.6"/>
<line x1="512.62" y1="181.5" x2="512.62" y2="259.1" stroke="#eeeeee" stroke-width="0.6"/>
<line x1="527.96" y1="181.5" x2="527.96" y2="259.1" stroke="#eeeeee" stroke-width="0.6"/>
<line x1="466.6" y1="207.37" x2="543.3" y2="207.37" stroke="#eeeeee" stroke-width="0.6"/>
<line x1="466.6" y1="233.23" x2="543.3" y2="233.23" stroke="#eeeeee" stroke-width="0.6"/>
<line x1="481.94" y1="259.1" x2="481.94" y2="257.90000000000003" stroke="#4a4a4a" stroke-width="0.8"/>
<line x1="481.94" y1="181.5" x2="481.94" y2="182.7" stroke="#4a4a4a" stroke-width="0.8"/>
<line x1="497.28" y1="259.1" x2="497.28" y2="257.90000000000003" stroke="#4a4a4a" stroke-width="0.8"/>
<line x1="497.28" y1="181.5" x2="497.28" y2="182.7" stroke="#4a4a4a" stroke-width="0.8"/>
<line x1="512.62" y1="259.1" x2="512.62" y2="257.90000000000003" stroke="#4a4a4a" stroke-width="0.8"/>
<line x1="512.62" y1="181.5" x2="512.62" y2="182.7" stroke="#4a4a4a" stroke-width="0.8"/>
<line x1="527.96" y1="259.1" x2="527.96" y2="257.90000000000003" stroke="#4a4a4a" stroke-width="0.8"/>
<line x1="527.96" y1="181.5" x2="527.96" y2="182.7" stroke="#4a4a4a" stroke-width="0.8"/>
<line x1="466.6" y1="207.37" x2="467.8" y2="207.37" stroke="#4a4a4a" stroke-width="0.8"/>
<line x1="543.3" y1="207.37" x2="542.0999999999999" y2="207.37" stroke="#4a4a4a" stroke-width="0.8"/>
<line x1="466.6" y1="233.23" x2="467.8" y2="233.23" stroke="#4a4a4a" stroke-width="0.8"/>
<line x1="543.3" y1="233.23" x2="542.0999999999999" y2="233.23" stroke="#4a4a4a" stroke-width="0.8"/>
<rect x="466.6" y="181.5" width="76.70" height="77.60" fill="none" stroke="#4a4a4a" stroke-width="1.25"/>
<g clip-path="url(#c18)">
<polyline points="466.00,243.94 469.55,243.41 473.10,242.52 475.77,241.28 477.55,243.94 478.79,244.83 481.10,242.52 483.76,239.50 485.54,235.42 487.31,229.73 489.09,222.63 490.87,215.52 491.93,214.10 493.00,218.19 494.42,226.18 496.20,231.51 497.97,235.42 499.75,236.84 501.52,238.26 503.66,239.50 505.43,244.83 506.85,248.38 508.63,246.61 511.29,244.83 513.07,247.14 515.73,250.16 519.29,251.94 524.61,253.71 529.94,254.60 537.05,255.49 544.15,256.38" fill="none" stroke="#000000" stroke-width="1.2" stroke-linejoin="round" stroke-linecap="round" />
<polyline points="466.00,244.83 469.55,243.59 473.10,242.52 475.24,239.50 476.30,240.39 477.55,242.52 479.32,241.81 481.10,239.50 482.87,235.06 484.65,227.96 486.43,223.52 487.67,212.86 488.38,209.31 489.45,210.20 490.87,217.30 492.64,226.18 494.42,232.40 496.20,235.95 497.97,236.84 499.39,233.29 500.10,230.62 501.52,230.09 504.19,230.62 506.85,231.87 508.63,228.85 510.05,235.06 511.29,241.28 512.54,244.83 514.85,248.38 517.51,250.69 521.06,251.94 526.39,253.18 531.72,254.25 537.05,254.60 544.15,256.02" fill="none" stroke="#ff1a8c" stroke-width="1.1" stroke-linejoin="round" stroke-linecap="round" />
<polyline points="466.00,244.83 469.55,243.59 473.10,242.52 475.24,239.50 476.30,240.39 477.55,242.52 479.32,241.81 481.10,239.50 482.87,235.06 484.65,227.96 486.43,215.52 487.67,205.75 488.38,204.51 489.45,206.64 490.87,217.30 492.64,226.18 494.42,232.40 496.20,235.95 497.97,236.84 499.39,233.29 500.10,227.96 501.52,225.29 504.19,225.29 506.85,227.07 508.63,228.85 510.05,235.06 511.29,241.28 512.54,244.83 514.85,248.38 517.51,250.69 521.06,251.94 526.39,253.18 531.72,254.25 537.05,254.60 544.15,256.02" fill="none" stroke="#19e36b" stroke-width="1.1" stroke-linejoin="round" stroke-linecap="round" />
<polyline points="466.00,244.83 469.55,243.59 473.10,242.52 475.24,239.50 476.30,240.39 477.55,242.52 479.32,241.81 481.10,239.50 482.87,235.06 484.65,227.96 486.43,215.52 487.67,205.75 488.38,202.74 489.45,206.64 490.87,217.30 492.64,226.18 494.42,232.40 496.20,235.95 497.97,236.84 499.39,233.29 500.10,226.18 501.52,224.05 504.19,223.52 506.85,225.29 508.63,228.85 510.05,235.06 511.29,241.28 512.54,244.83 514.85,248.38 517.51,250.69 521.06,251.94 526.39,253.18 531.72,254.25 537.05,254.60 544.15,256.02" fill="none" stroke="#0000ff" stroke-width="1.2" stroke-linejoin="round" stroke-linecap="round" />
</g>
<text x="294.80" y="184.50" font-family='"Liberation Sans", Arial, sans-serif' font-size="7.60" fill="#262626" text-anchor="end"  textLength="8.45" lengthAdjust="spacingAndGlyphs">3a</text>
<text x="294.80" y="209.37" font-family='"Liberation Sans", Arial, sans-serif' font-size="7.60" fill="#262626" text-anchor="end"  textLength="8.45" lengthAdjust="spacingAndGlyphs">2a</text>
<text x="294.80" y="235.23" font-family='"Liberation Sans", Arial, sans-serif' font-size="7.60" fill="#262626" text-anchor="end"  textLength="8.45" lengthAdjust="spacingAndGlyphs">1a</text>
<text transform="translate(283.0,218.80) rotate(-90)" x="0" y="0" font-family='"Liberation Sans", Arial, sans-serif' font-size="8.2" fill="#262626" text-anchor="middle" textLength="43.2" lengthAdjust="spacingAndGlyphs">Mag. (μm/N)</text>
<text x="296.60" y="266.80" font-family='"Liberation Sans", Arial, sans-serif' font-size="7.00" fill="#262626" text-anchor="middle"  textLength="7.79" lengthAdjust="spacingAndGlyphs">10</text>
<text x="311.86" y="266.80" font-family='"Liberation Sans", Arial, sans-serif' font-size="7.00" fill="#262626" text-anchor="middle"  textLength="7.79" lengthAdjust="spacingAndGlyphs">20</text>
<text x="327.12" y="266.80" font-family='"Liberation Sans", Arial, sans-serif' font-size="7.00" fill="#262626" text-anchor="middle"  textLength="7.79" lengthAdjust="spacingAndGlyphs">30</text>
<text x="342.38" y="266.80" font-family='"Liberation Sans", Arial, sans-serif' font-size="7.00" fill="#262626" text-anchor="middle"  textLength="7.79" lengthAdjust="spacingAndGlyphs">40</text>
<text x="357.64" y="266.80" font-family='"Liberation Sans", Arial, sans-serif' font-size="7.00" fill="#262626" text-anchor="middle"  textLength="7.79" lengthAdjust="spacingAndGlyphs">50</text>
<text x="372.90" y="266.80" font-family='"Liberation Sans", Arial, sans-serif' font-size="7.00" fill="#262626" text-anchor="middle"  textLength="7.79" lengthAdjust="spacingAndGlyphs">60</text>
<text x="334.85" y="276.20" font-family='"Liberation Sans", Arial, sans-serif' font-size="8.60" fill="#262626" text-anchor="middle" textLength="58.4" lengthAdjust="spacingAndGlyphs">Frequency (Hz)</text>
<text x="381.90" y="266.80" font-family='"Liberation Sans", Arial, sans-serif' font-size="7.00" fill="#262626" text-anchor="middle"  textLength="7.79" lengthAdjust="spacingAndGlyphs">10</text>
<text x="395.52" y="266.80" font-family='"Liberation Sans", Arial, sans-serif' font-size="7.00" fill="#262626" text-anchor="middle"  textLength="7.79" lengthAdjust="spacingAndGlyphs">20</text>
<text x="410.84" y="266.80" font-family='"Liberation Sans", Arial, sans-serif' font-size="7.00" fill="#262626" text-anchor="middle"  textLength="7.79" lengthAdjust="spacingAndGlyphs">30</text>
<text x="426.16" y="266.80" font-family='"Liberation Sans", Arial, sans-serif' font-size="7.00" fill="#262626" text-anchor="middle"  textLength="7.79" lengthAdjust="spacingAndGlyphs">40</text>
<text x="441.48" y="266.80" font-family='"Liberation Sans", Arial, sans-serif' font-size="7.00" fill="#262626" text-anchor="middle"  textLength="7.79" lengthAdjust="spacingAndGlyphs">50</text>
<text x="456.80" y="266.80" font-family='"Liberation Sans", Arial, sans-serif' font-size="7.00" fill="#262626" text-anchor="middle"  textLength="7.79" lengthAdjust="spacingAndGlyphs">60</text>
<text x="418.60" y="276.20" font-family='"Liberation Sans", Arial, sans-serif' font-size="8.60" fill="#262626" text-anchor="middle" textLength="58.4" lengthAdjust="spacingAndGlyphs">Frequency (Hz)</text>
<text x="467.40" y="266.80" font-family='"Liberation Sans", Arial, sans-serif' font-size="7.00" fill="#262626" text-anchor="middle"  textLength="7.79" lengthAdjust="spacingAndGlyphs">10</text>
<text x="481.04" y="266.80" font-family='"Liberation Sans", Arial, sans-serif' font-size="7.00" fill="#262626" text-anchor="middle"  textLength="7.79" lengthAdjust="spacingAndGlyphs">20</text>
<text x="496.38" y="266.80" font-family='"Liberation Sans", Arial, sans-serif' font-size="7.00" fill="#262626" text-anchor="middle"  textLength="7.79" lengthAdjust="spacingAndGlyphs">30</text>
<text x="511.72" y="266.80" font-family='"Liberation Sans", Arial, sans-serif' font-size="7.00" fill="#262626" text-anchor="middle"  textLength="7.79" lengthAdjust="spacingAndGlyphs">40</text>
<text x="527.06" y="266.80" font-family='"Liberation Sans", Arial, sans-serif' font-size="7.00" fill="#262626" text-anchor="middle"  textLength="7.79" lengthAdjust="spacingAndGlyphs">50</text>
<text x="542.40" y="266.80" font-family='"Liberation Sans", Arial, sans-serif' font-size="7.00" fill="#262626" text-anchor="middle"  textLength="7.79" lengthAdjust="spacingAndGlyphs">60</text>
<text x="504.15" y="276.20" font-family='"Liberation Sans", Arial, sans-serif' font-size="8.60" fill="#262626" text-anchor="middle" textLength="58.4" lengthAdjust="spacingAndGlyphs">Frequency (Hz)</text>
<rect x="80.60" y="20.60" width="19.90" height="14.90" fill="#fff" stroke="#4a4a4a" stroke-width="1.2"/><text x="82.10" y="29.80" font-family='"Liberation Serif", serif' font-size="8.9" fill="#262626">Φ<tspan font-style="italic" font-size="8.4" dx="0.5" dy="2.4" letter-spacing="1.5">xx</tspan></text>
<rect x="164.50" y="20.60" width="19.90" height="14.90" fill="#fff" stroke="#4a4a4a" stroke-width="1.2"/><text x="166.00" y="29.80" font-family='"Liberation Serif", serif' font-size="8.9" fill="#262626">Φ<tspan font-style="italic" font-size="8.4" dx="0.5" dy="2.4" letter-spacing="1.5">xy</tspan></text>
<rect x="250.00" y="20.60" width="19.90" height="14.90" fill="#fff" stroke="#4a4a4a" stroke-width="1.2"/><text x="251.50" y="29.80" font-family='"Liberation Serif", serif' font-size="8.9" fill="#262626">Φ<tspan font-style="italic" font-size="8.4" dx="0.5" dy="2.4" letter-spacing="1.5">xz</tspan></text>
<rect x="80.60" y="100.60" width="19.90" height="14.90" fill="#fff" stroke="#4a4a4a" stroke-width="1.2"/><text x="82.10" y="109.80" font-family='"Liberation Serif", serif' font-size="8.9" fill="#262626">Φ<tspan font-style="italic" font-size="8.4" dx="0.5" dy="2.4" letter-spacing="1.5">yx</tspan></text>
<rect x="164.50" y="100.60" width="19.90" height="14.90" fill="#fff" stroke="#4a4a4a" stroke-width="1.2"/><text x="166.00" y="109.80" font-family='"Liberation Serif", serif' font-size="8.9" fill="#262626">Φ<tspan font-style="italic" font-size="8.4" dx="0.5" dy="2.4" letter-spacing="1.5">yy</tspan></text>
<rect x="80.60" y="181.50" width="19.90" height="14.90" fill="#fff" stroke="#4a4a4a" stroke-width="1.2"/><text x="82.10" y="190.70" font-family='"Liberation Serif", serif' font-size="8.9" fill="#262626">Φ<tspan font-style="italic" font-size="8.4" dx="0.5" dy="2.4" letter-spacing="1.5">zx</tspan></text>
<rect x="164.50" y="181.50" width="19.90" height="14.90" fill="#fff" stroke="#4a4a4a" stroke-width="1.2"/><text x="166.00" y="190.70" font-family='"Liberation Serif", serif' font-size="8.9" fill="#262626">Φ<tspan font-style="italic" font-size="8.4" dx="0.5" dy="2.4" letter-spacing="1.5">zy</tspan></text>
<rect x="250.00" y="181.50" width="19.90" height="14.90" fill="#fff" stroke="#4a4a4a" stroke-width="1.2"/><text x="251.50" y="190.70" font-family='"Liberation Serif", serif' font-size="8.9" fill="#262626">Φ<tspan font-style="italic" font-size="8.4" dx="0.5" dy="2.4" letter-spacing="1.5">zz</tspan></text>
<rect x="353.90" y="20.60" width="19.90" height="14.90" fill="#fff" stroke="#4a4a4a" stroke-width="1.2"/><text x="355.40" y="29.80" font-family='"Liberation Serif", serif' font-size="8.9" fill="#262626">Φ<tspan font-style="italic" font-size="8.4" dx="0.5" dy="2.4" letter-spacing="1.5">xx</tspan></text>
<rect x="437.80" y="20.60" width="19.90" height="14.90" fill="#fff" stroke="#4a4a4a" stroke-width="1.2"/><text x="439.30" y="29.80" font-family='"Liberation Serif", serif' font-size="8.9" fill="#262626">Φ<tspan font-style="italic" font-size="8.4" dx="0.5" dy="2.4" letter-spacing="1.5">xy</tspan></text>
<rect x="523.40" y="20.60" width="19.90" height="14.90" fill="#fff" stroke="#4a4a4a" stroke-width="1.2"/><text x="524.90" y="29.80" font-family='"Liberation Serif", serif' font-size="8.9" fill="#262626">Φ<tspan font-style="italic" font-size="8.4" dx="0.5" dy="2.4" letter-spacing="1.5">xz</tspan></text>
<rect x="353.90" y="100.60" width="19.90" height="14.90" fill="#fff" stroke="#4a4a4a" stroke-width="1.2"/><text x="355.40" y="109.80" font-family='"Liberation Serif", serif' font-size="8.9" fill="#262626">Φ<tspan font-style="italic" font-size="8.4" dx="0.5" dy="2.4" letter-spacing="1.5">yx</tspan></text>
<rect x="437.80" y="100.60" width="19.90" height="14.90" fill="#fff" stroke="#4a4a4a" stroke-width="1.2"/><text x="439.30" y="109.80" font-family='"Liberation Serif", serif' font-size="8.9" fill="#262626">Φ<tspan font-style="italic" font-size="8.4" dx="0.5" dy="2.4" letter-spacing="1.5">yy</tspan></text>
<rect x="353.90" y="181.50" width="19.90" height="14.90" fill="#fff" stroke="#4a4a4a" stroke-width="1.2"/><text x="355.40" y="190.70" font-family='"Liberation Serif", serif' font-size="8.9" fill="#262626">Φ<tspan font-style="italic" font-size="8.4" dx="0.5" dy="2.4" letter-spacing="1.5">zx</tspan></text>
<rect x="437.80" y="181.50" width="19.90" height="14.90" fill="#fff" stroke="#4a4a4a" stroke-width="1.2"/><text x="439.30" y="190.70" font-family='"Liberation Serif", serif' font-size="8.9" fill="#262626">Φ<tspan font-style="italic" font-size="8.4" dx="0.5" dy="2.4" letter-spacing="1.5">zy</tspan></text>
<rect x="523.40" y="181.50" width="19.90" height="14.90" fill="#fff" stroke="#4a4a4a" stroke-width="1.2"/><text x="524.90" y="190.70" font-family='"Liberation Serif", serif' font-size="8.9" fill="#262626">Φ<tspan font-style="italic" font-size="8.4" dx="0.5" dy="2.4" letter-spacing="1.5">zz</tspan></text>
<g clip-path="url(#cc)">
<path d="M26.00,300.00 L27.00,300.00 L27.40,305.00 L27.80,310.00 L28.30,320.00 L29.00,330.00 L30.20,340.00 L31.80,349.00 L33.80,358.00 L35.60,366.50 L38.50,373.50 L42.20,379.50 L45.50,382.50 L48.90,384.20 L52.50,385.10 L55.60,385.30 L58.50,384.60 L61.10,383.20 L63.50,381.20 L65.60,378.70 L67.30,375.80 L68.50,376.80 L70.00,378.00 L72.50,379.80 L75.60,381.10 L80.00,382.30 L85.30,383.00 L90.00,383.30 L94.20,383.30 L99.00,383.00 L103.10,382.40 L109.00,380.90 L115.60,378.70 L121.00,376.50 L126.20,374.30 L130.00,372.30 L133.40,369.80 L135.60,367.50 L136.90,365.40 L137.90,362.50 L138.40,359.50 L138.80,357.70 L140.50,357.40 L145.00,357.00 L151.10,356.50 L156.00,355.90 L160.00,355.50 L166.00,354.50 L172.50,353.30 L180.00,351.40 L187.20,349.40 L193.00,347.00 L198.70,344.30 L201.80,343.50 L210.00,342.20 L222.70,340.00 L233.00,337.50 L243.60,334.70 L256.00,331.60 L268.30,328.50 L272.00,327.50 L272.00,430.00 L24.00,430.00 Z" fill="#aab2d6" stroke="none"/>
<line x1="67.57" y1="304.6" x2="67.57" y2="425.5" stroke="#000" stroke-opacity="0.09" stroke-width="0.7"/>
<line x1="107.73" y1="304.6" x2="107.73" y2="425.5" stroke="#000" stroke-opacity="0.09" stroke-width="0.7"/>
<line x1="147.90" y1="304.6" x2="147.90" y2="425.5" stroke="#000" stroke-opacity="0.09" stroke-width="0.7"/>
<line x1="188.07" y1="304.6" x2="188.07" y2="425.5" stroke="#000" stroke-opacity="0.09" stroke-width="0.7"/>
<line x1="228.23" y1="304.6" x2="228.23" y2="425.5" stroke="#000" stroke-opacity="0.09" stroke-width="0.7"/>
<line x1="27.4" y1="324.75" x2="268.4" y2="324.75" stroke="#000" stroke-opacity="0.09" stroke-width="0.7"/>
<line x1="27.4" y1="344.90" x2="268.4" y2="344.90" stroke="#000" stroke-opacity="0.09" stroke-width="0.7"/>
<line x1="27.4" y1="365.05" x2="268.4" y2="365.05" stroke="#000" stroke-opacity="0.09" stroke-width="0.7"/>
<line x1="27.4" y1="385.20" x2="268.4" y2="385.20" stroke="#000" stroke-opacity="0.09" stroke-width="0.7"/>
<line x1="27.4" y1="405.35" x2="268.4" y2="405.35" stroke="#000" stroke-opacity="0.09" stroke-width="0.7"/>
<polyline points="27.00,300.00 27.40,305.00 27.80,310.00 28.30,320.00 29.00,330.00 30.20,340.00 31.80,349.00 33.80,358.00 35.60,366.50 38.50,373.50 42.20,379.50 45.50,382.50 48.90,384.20 52.50,385.10 55.60,385.30 58.50,384.60 61.10,383.20 63.50,381.20 65.60,378.70 67.30,375.80 68.50,376.80 70.00,378.00 72.50,379.80 75.60,381.10 80.00,382.30 85.30,383.00 90.00,383.30 94.20,383.30 99.00,383.00 103.10,382.40 109.00,380.90 115.60,378.70 121.00,376.50 126.20,374.30 130.00,372.30 133.40,369.80 135.60,367.50 136.90,365.40 137.90,362.50 138.40,359.50 138.80,357.70 140.50,357.40 145.00,357.00 151.10,356.50 156.00,355.90 160.00,355.50 166.00,354.50 172.50,353.30 180.00,351.40 187.20,349.40 193.00,347.00 198.70,344.30 201.80,343.50 210.00,342.20 222.70,340.00 233.00,337.50 243.60,334.70 256.00,331.60 268.30,328.50 272.00,327.50" fill="none" stroke="#000" stroke-width="2.2" stroke-linejoin="round" stroke-linecap="round" />
<polyline points="25.50,345.00 27.50,332.00 29.20,318.00 31.00,305.00 31.80,299.00" fill="none" stroke="#0000ff" stroke-width="2.0" stroke-linejoin="round" stroke-linecap="round" />
<polyline points="34.80,299.00 35.20,305.00 36.20,314.00 37.50,322.00 38.80,331.00 40.20,341.00 42.20,349.00 43.60,353.40 44.80,355.40 45.70,355.60 46.70,353.80 47.80,352.30 48.90,353.20 50.00,355.30 51.60,358.60 53.30,361.80 56.00,365.20 58.90,367.60 62.00,369.80 64.40,371.40 66.20,372.60 67.80,373.20 69.50,373.30 71.10,372.90 72.80,371.90 74.40,370.80 76.20,369.70 77.80,369.10 80.00,368.80 84.40,368.20 88.90,367.30 92.00,366.00 94.20,364.70 97.00,362.50 99.60,360.20 102.20,357.90 104.90,355.70 107.20,353.90 109.30,352.20 110.70,350.60 111.70,348.60 112.40,346.30 112.90,344.20 114.00,344.80 115.60,345.90 118.00,347.30 120.90,348.50 124.50,349.50 128.00,350.20 132.50,350.80 136.90,351.10 141.40,350.70 145.80,349.90 150.30,348.80 154.70,347.60 159.20,346.40 163.60,345.00 167.00,343.60 170.50,342.10 175.70,339.60 180.90,336.90 186.00,334.00 191.40,330.60 194.50,327.60 196.60,324.40 198.40,321.50 199.70,319.20 201.40,316.80 203.50,312.00 206.00,305.00 208.00,299.00" fill="none" stroke="#0000ff" stroke-width="2.0" stroke-linejoin="round" stroke-linecap="round" />
</g>
<path d="M65.30,362.60 L69.90,367.20 M69.90,362.60 L65.30,367.20" stroke="#ff0000" stroke-width="1.3" fill="none"/>
<path d="M105.30,352.50 L109.90,357.10 M109.90,352.50 L105.30,357.10" stroke="#ff0000" stroke-width="1.3" fill="none"/>
<path d="M145.40,352.80 L150.00,357.40 M150.00,352.80 L145.40,357.40" stroke="#ff0000" stroke-width="1.3" fill="none"/>
<path d="M185.70,342.60 L190.30,347.20 M190.30,342.60 L185.70,347.20" stroke="#ff0000" stroke-width="1.3" fill="none"/>
<path d="M225.80,352.80 L230.40,357.40 M230.40,352.80 L225.80,357.40" stroke="#ff0000" stroke-width="1.3" fill="none"/>
<circle cx="67.60" cy="375.40" r="2.2" fill="#1fbf1f"/>
<circle cx="107.60" cy="365.30" r="2.2" fill="#1fbf1f"/>
<circle cx="147.70" cy="365.30" r="2.2" fill="#1fbf1f"/>
<circle cx="188.00" cy="355.40" r="2.2" fill="#1fbf1f"/>
<circle cx="228.10" cy="365.40" r="2.2" fill="#1fbf1f"/>
<line x1="67.57" y1="425.5" x2="67.57" y2="423.3" stroke="#3c3c3c" stroke-width="0.8"/>
<line x1="67.57" y1="304.6" x2="67.57" y2="306.8" stroke="#3c3c3c" stroke-width="0.8"/>
<line x1="107.73" y1="425.5" x2="107.73" y2="423.3" stroke="#3c3c3c" stroke-width="0.8"/>
<line x1="107.73" y1="304.6" x2="107.73" y2="306.8" stroke="#3c3c3c" stroke-width="0.8"/>
<line x1="147.90" y1="425.5" x2="147.90" y2="423.3" stroke="#3c3c3c" stroke-width="0.8"/>
<line x1="147.90" y1="304.6" x2="147.90" y2="306.8" stroke="#3c3c3c" stroke-width="0.8"/>
<line x1="188.07" y1="425.5" x2="188.07" y2="423.3" stroke="#3c3c3c" stroke-width="0.8"/>
<line x1="188.07" y1="304.6" x2="188.07" y2="306.8" stroke="#3c3c3c" stroke-width="0.8"/>
<line x1="228.23" y1="425.5" x2="228.23" y2="423.3" stroke="#3c3c3c" stroke-width="0.8"/>
<line x1="228.23" y1="304.6" x2="228.23" y2="306.8" stroke="#3c3c3c" stroke-width="0.8"/>
<line x1="27.4" y1="324.75" x2="29.599999999999998" y2="324.75" stroke="#3c3c3c" stroke-width="0.8"/>
<line x1="268.4" y1="324.75" x2="266.2" y2="324.75" stroke="#3c3c3c" stroke-width="0.8"/>
<line x1="27.4" y1="344.90" x2="29.599999999999998" y2="344.90" stroke="#3c3c3c" stroke-width="0.8"/>
<line x1="268.4" y1="344.90" x2="266.2" y2="344.90" stroke="#3c3c3c" stroke-width="0.8"/>
<line x1="27.4" y1="365.05" x2="29.599999999999998" y2="365.05" stroke="#3c3c3c" stroke-width="0.8"/>
<line x1="268.4" y1="365.05" x2="266.2" y2="365.05" stroke="#3c3c3c" stroke-width="0.8"/>
<line x1="27.4" y1="385.20" x2="29.599999999999998" y2="385.20" stroke="#3c3c3c" stroke-width="0.8"/>
<line x1="268.4" y1="385.20" x2="266.2" y2="385.20" stroke="#3c3c3c" stroke-width="0.8"/>
<line x1="27.4" y1="405.35" x2="29.599999999999998" y2="405.35" stroke="#3c3c3c" stroke-width="0.8"/>
<line x1="268.4" y1="405.35" x2="266.2" y2="405.35" stroke="#3c3c3c" stroke-width="0.8"/>
<rect x="27.4" y="304.6" width="241.00" height="120.90" fill="none" stroke="#3c3c3c" stroke-width="1.3"/>
<g clip-path="url(#cd)">
<path d="M298.50,358.00 L298.50,358.00 L299.70,355.00 L301.30,348.30 L303.00,341.70 L304.50,336.00 L305.50,332.50 L306.30,330.80 L307.20,333.30 L308.00,338.50 L308.80,345.00 L310.00,352.50 L311.30,360.00 L312.50,365.50 L313.80,370.00 L315.00,373.80 L316.30,376.50 L317.60,378.30 L318.80,379.20 L320.00,379.30 L321.30,379.20 L322.20,379.80 L323.00,380.80 L324.50,383.10 L326.60,386.70 L328.00,388.30 L329.50,389.60 L331.50,390.90 L333.90,391.80 L336.00,392.30 L338.30,392.50 L340.50,392.40 L342.60,392.10 L344.20,391.60 L345.30,390.80 L346.20,391.40 L347.40,392.10 L349.00,392.70 L350.60,393.00 L353.00,393.10 L355.00,393.00 L357.00,392.50 L358.60,391.50 L359.90,390.20 L360.80,388.90 L361.40,386.80 L362.20,387.60 L363.20,388.40 L365.90,389.30 L368.00,389.60 L370.30,389.70 L373.00,389.60 L376.10,389.40 L379.50,388.90 L381.90,388.40 L384.10,387.70 L386.30,386.90 L387.70,385.90 L388.80,384.60 L389.50,383.20 L389.80,381.80 L389.20,380.80 L388.20,380.00 L386.70,379.30 L385.00,378.80 L386.80,379.20 L388.60,379.60 L391.00,379.50 L393.20,379.10 L396.00,378.30 L398.60,377.30 L401.00,376.10 L403.20,374.60 L405.00,373.20 L406.80,371.80 L408.20,370.60 L409.50,369.60 L411.30,369.00 L413.20,368.50 L414.60,367.80 L415.90,366.80 L416.90,365.70 L417.70,364.50 L418.30,363.60 L418.40,362.80 L417.80,362.10 L416.80,361.50 L418.00,362.20 L419.60,363.60 L421.40,364.90 L423.50,366.00 L426.00,366.80 L429.10,367.30 L433.00,367.50 L438.20,367.40 L442.00,367.20 L447.30,366.60 L451.50,366.20 L455.50,365.60 L459.10,364.90 L462.00,364.00 L464.80,363.00 L467.00,362.20 L469.60,361.40 L473.00,361.20 L478.20,361.10 L485.00,360.60 L491.00,360.00 L497.30,359.20 L504.00,358.10 L510.00,356.90 L516.40,355.40 L522.00,354.00 L528.00,352.50 L533.00,351.20 L538.30,349.90 L542.00,349.00 L542.00,430.00 L298.00,430.00 Z" fill="#aab2d6" stroke="none"/>
<line x1="339.38" y1="305.2" x2="339.38" y2="425.5" stroke="#000" stroke-opacity="0.09" stroke-width="0.7"/>
<line x1="379.17" y1="305.2" x2="379.17" y2="425.5" stroke="#000" stroke-opacity="0.09" stroke-width="0.7"/>
<line x1="418.95" y1="305.2" x2="418.95" y2="425.5" stroke="#000" stroke-opacity="0.09" stroke-width="0.7"/>
<line x1="458.73" y1="305.2" x2="458.73" y2="425.5" stroke="#000" stroke-opacity="0.09" stroke-width="0.7"/>
<line x1="498.52" y1="305.2" x2="498.52" y2="425.5" stroke="#000" stroke-opacity="0.09" stroke-width="0.7"/>
<line x1="299.6" y1="325.25" x2="538.3" y2="325.25" stroke="#000" stroke-opacity="0.09" stroke-width="0.7"/>
<line x1="299.6" y1="345.30" x2="538.3" y2="345.30" stroke="#000" stroke-opacity="0.09" stroke-width="0.7"/>
<line x1="299.6" y1="365.35" x2="538.3" y2="365.35" stroke="#000" stroke-opacity="0.09" stroke-width="0.7"/>
<line x1="299.6" y1="385.40" x2="538.3" y2="385.40" stroke="#000" stroke-opacity="0.09" stroke-width="0.7"/>
<line x1="299.6" y1="405.45" x2="538.3" y2="405.45" stroke="#000" stroke-opacity="0.09" stroke-width="0.7"/>
<polyline points="298.50,358.00 299.70,355.00 301.30,348.30 303.00,341.70 304.50,336.00 305.50,332.50 306.30,330.80 307.20,333.30 308.00,338.50 308.80,345.00 310.00,352.50 311.30,360.00 312.50,365.50 313.80,370.00 315.00,373.80 316.30,376.50 317.60,378.30 318.80,379.20 320.00,379.30 321.30,379.20 322.20,379.80 323.00,380.80 324.50,383.10 326.60,386.70 328.00,388.30 329.50,389.60 331.50,390.90 333.90,391.80 336.00,392.30 338.30,392.50 340.50,392.40 342.60,392.10 344.20,391.60 345.30,390.80 346.20,391.40 347.40,392.10 349.00,392.70 350.60,393.00 353.00,393.10 355.00,393.00 357.00,392.50 358.60,391.50 359.90,390.20 360.80,388.90 361.40,386.80 362.20,387.60 363.20,388.40 365.90,389.30 368.00,389.60 370.30,389.70 373.00,389.60 376.10,389.40 379.50,388.90 381.90,388.40 384.10,387.70 386.30,386.90 387.70,385.90 388.80,384.60 389.50,383.20 389.80,381.80 389.20,380.80 388.20,380.00 386.70,379.30 385.00,378.80 386.80,379.20 388.60,379.60 391.00,379.50 393.20,379.10 396.00,378.30 398.60,377.30 401.00,376.10 403.20,374.60 405.00,373.20 406.80,371.80 408.20,370.60 409.50,369.60 411.30,369.00 413.20,368.50 414.60,367.80 415.90,366.80 416.90,365.70 417.70,364.50 418.30,363.60 418.40,362.80 417.80,362.10 416.80,361.50 418.00,362.20 419.60,363.60 421.40,364.90 423.50,366.00 426.00,366.80 429.10,367.30 433.00,367.50 438.20,367.40 442.00,367.20 447.30,366.60 451.50,366.20 455.50,365.60 459.10,364.90 462.00,364.00 464.80,363.00 467.00,362.20 469.60,361.40 473.00,361.20 478.20,361.10 485.00,360.60 491.00,360.00 497.30,359.20 504.00,358.10 510.00,356.90 516.40,355.40 522.00,354.00 528.00,352.50 533.00,351.20 538.30,349.90 542.00,349.00" fill="none" stroke="#000" stroke-width="2.5" stroke-linejoin="round" stroke-linecap="round" />
<polyline points="320.50,348.20 321.40,348.70 322.20,350.60 322.90,351.60 323.80,351.10 325.00,350.00 326.40,347.80 327.50,349.80 328.60,352.20 330.20,354.10 331.80,355.40 332.60,355.20 333.00,350.00 333.40,343.00 333.70,341.00 334.20,342.80 334.80,345.50 335.90,349.80 337.70,353.10 339.10,355.20 340.50,356.70 342.00,358.00 343.20,358.60 345.00,359.00 346.80,358.70 348.60,357.90 350.90,356.80 353.20,355.80 355.90,354.30 358.60,352.60 360.00,352.50 361.40,352.40 363.20,352.90 365.50,353.50 368.00,352.70 370.90,350.90 373.70,348.40 376.40,345.40 378.00,342.50 379.10,340.00 379.70,337.80 380.00,336.40 380.90,338.10 382.20,339.60 383.40,341.30 384.40,344.00 385.50,347.10 387.30,349.80 389.10,351.70 392.70,353.90 396.40,355.40 401.80,357.00 407.30,358.10 413.60,358.80 420.00,359.10 426.40,358.50 432.70,357.30 439.00,356.00 445.50,354.50 452.50,353.00 459.10,351.50 468.60,349.20 478.20,346.80 487.70,344.00 497.30,341.00 506.80,338.20 516.40,335.30 527.30,332.40 538.30,329.60 542.00,328.60" fill="none" stroke="#ff1a8c" stroke-width="1.2" stroke-linejoin="round" stroke-linecap="round" />
<polyline points="320.60,348.80 321.80,351.80 323.20,354.00 324.50,355.20 325.60,355.00 326.80,355.00 327.70,357.30 328.60,359.40 330.00,361.50 331.40,363.10 332.80,364.00 334.10,364.50 335.50,364.60 336.80,364.40 337.80,363.80 338.60,362.80 339.10,358.80 339.70,359.70 340.70,360.70 342.30,361.30 345.00,361.50 347.70,361.30 350.50,360.50 353.20,359.50 356.00,358.20 358.60,356.90 360.50,356.10 362.30,355.50 365.00,355.10 367.30,355.20 370.00,353.70 372.70,351.80 375.50,348.80 378.20,345.50 380.00,342.70 381.80,340.10 382.60,339.00 383.30,338.30 384.00,339.50 384.50,340.80 385.90,342.80 387.30,344.50 390.00,346.50 392.70,348.10 397.30,349.70 401.80,350.80 408.00,351.80 414.50,352.30 421.80,352.30 429.10,351.80 435.50,351.00 441.80,350.10 449.50,348.70 459.10,346.80 463.90,345.50 468.60,343.90 473.40,342.20 478.20,340.10 482.20,337.60 485.80,334.50 488.40,331.70 490.60,328.60 492.60,325.60 494.40,322.90 496.00,320.30 497.30,318.10 499.00,314.80 500.80,311.00 502.60,306.50 504.20,301.50" fill="none" stroke="#19e36b" stroke-width="1.2" stroke-linejoin="round" stroke-linecap="round" />
<polyline points="297.00,321.00 299.60,320.30 301.00,319.60 302.20,317.80 303.20,315.00 304.00,311.00 304.70,307.00 305.10,304.50 305.40,301.00" fill="none" stroke="#0000ff" stroke-width="2.1" stroke-linejoin="round" stroke-linecap="round" />
<polyline points="311.20,301.00 311.50,304.60 312.00,309.00 312.60,314.00 313.40,320.00 314.20,326.00 315.20,331.50 316.40,336.00 317.50,340.00 318.60,344.00 320.00,348.00 321.40,351.40 322.80,354.30 324.10,356.20 325.00,356.80 325.50,355.50 326.00,351.00 326.40,347.90 327.00,349.20 327.70,350.90 328.60,352.80 329.50,354.50 330.90,356.20 332.30,357.60 333.70,358.70 335.00,359.40 336.20,359.50 336.80,357.00 337.00,351.50 337.60,354.00 338.30,357.20 339.10,358.60 340.70,360.20 342.30,361.40 344.10,362.40 345.90,363.20 347.30,363.80 348.60,364.10 350.00,364.00 351.40,363.60 353.20,362.60 355.00,361.40 356.80,360.20 358.60,359.20 360.50,358.30 362.30,357.60 365.00,357.20 367.30,357.20 370.00,357.00 373.00,356.80 376.40,356.40 378.30,356.00 380.00,355.40 382.70,353.30 385.50,351.00 388.20,349.20 390.90,347.30 392.70,345.60 394.50,343.60 396.00,341.00 397.30,338.30 398.20,336.50 399.50,336.80 400.90,337.30 402.20,337.60 403.60,337.60 405.50,336.80 407.30,336.10 409.00,335.70 410.90,335.50 414.50,335.30 418.20,335.10 423.60,334.80 429.10,334.40 433.60,333.70 438.20,332.80 442.70,331.50 447.30,330.10 451.80,328.30 456.40,326.20 459.10,324.90 461.00,323.70 462.90,322.40 464.80,320.90 466.70,319.30 468.60,317.50 470.50,314.60 472.30,311.00 474.00,307.00 475.50,303.00 476.50,300.00" fill="none" stroke="#0000ff" stroke-width="2.1" stroke-linejoin="round" stroke-linecap="round" />
</g>
<path d="M337.00,352.10 L341.60,356.70 M341.60,352.10 L337.00,356.70" stroke="#ff0000" stroke-width="1.3" fill="none"/>
<path d="M376.90,342.20 L381.50,346.80 M381.50,342.20 L376.90,346.80" stroke="#ff0000" stroke-width="1.3" fill="none"/>
<path d="M416.50,322.60 L421.10,327.20 M421.10,322.60 L416.50,327.20" stroke="#ff0000" stroke-width="1.3" fill="none"/>
<path d="M418.80,332.60 L420.84,335.00 L418.80,337.40 L416.76,335.00 Z" fill="#ffee00" stroke="#505050" stroke-width="0.8"/>
<path d="M458.60,322.50 L460.64,324.90 L458.60,327.30 L456.56,324.90 Z" fill="#ffee00" stroke="#505050" stroke-width="0.8"/>
<path d="M498.50,322.50 L500.54,324.90 L498.50,327.30 L496.46,324.90 Z" fill="#ffee00" stroke="#505050" stroke-width="0.8"/>
<circle cx="339.30" cy="365.30" r="2.2" fill="#1fbf1f"/>
<circle cx="339.30" cy="375.40" r="2.2" fill="#1fbf1f"/>
<circle cx="379.20" cy="354.50" r="2.2" fill="#1fbf1f"/>
<circle cx="379.20" cy="364.60" r="2.2" fill="#1fbf1f"/>
<circle cx="418.80" cy="345.30" r="2.2" fill="#1fbf1f"/>
<circle cx="458.60" cy="335.00" r="2.2" fill="#1fbf1f"/>
<circle cx="498.50" cy="335.00" r="2.2" fill="#1fbf1f"/>
<line x1="339.38" y1="425.5" x2="339.38" y2="423.3" stroke="#3c3c3c" stroke-width="0.8"/>
<line x1="339.38" y1="305.2" x2="339.38" y2="307.4" stroke="#3c3c3c" stroke-width="0.8"/>
<line x1="379.17" y1="425.5" x2="379.17" y2="423.3" stroke="#3c3c3c" stroke-width="0.8"/>
<line x1="379.17" y1="305.2" x2="379.17" y2="307.4" stroke="#3c3c3c" stroke-width="0.8"/>
<line x1="418.95" y1="425.5" x2="418.95" y2="423.3" stroke="#3c3c3c" stroke-width="0.8"/>
<line x1="418.95" y1="305.2" x2="418.95" y2="307.4" stroke="#3c3c3c" stroke-width="0.8"/>
<line x1="458.73" y1="425.5" x2="458.73" y2="423.3" stroke="#3c3c3c" stroke-width="0.8"/>
<line x1="458.73" y1="305.2" x2="458.73" y2="307.4" stroke="#3c3c3c" stroke-width="0.8"/>
<line x1="498.52" y1="425.5" x2="498.52" y2="423.3" stroke="#3c3c3c" stroke-width="0.8"/>
<line x1="498.52" y1="305.2" x2="498.52" y2="307.4" stroke="#3c3c3c" stroke-width="0.8"/>
<line x1="299.6" y1="325.25" x2="301.8" y2="325.25" stroke="#3c3c3c" stroke-width="0.8"/>
<line x1="538.3" y1="325.25" x2="536.0999999999999" y2="325.25" stroke="#3c3c3c" stroke-width="0.8"/>
<line x1="299.6" y1="345.30" x2="301.8" y2="345.30" stroke="#3c3c3c" stroke-width="0.8"/>
<line x1="538.3" y1="345.30" x2="536.0999999999999" y2="345.30" stroke="#3c3c3c" stroke-width="0.8"/>
<line x1="299.6" y1="365.35" x2="301.8" y2="365.35" stroke="#3c3c3c" stroke-width="0.8"/>
<line x1="538.3" y1="365.35" x2="536.0999999999999" y2="365.35" stroke="#3c3c3c" stroke-width="0.8"/>
<line x1="299.6" y1="385.40" x2="301.8" y2="385.40" stroke="#3c3c3c" stroke-width="0.8"/>
<line x1="538.3" y1="385.40" x2="536.0999999999999" y2="385.40" stroke="#3c3c3c" stroke-width="0.8"/>
<line x1="299.6" y1="405.45" x2="301.8" y2="405.45" stroke="#3c3c3c" stroke-width="0.8"/>
<line x1="538.3" y1="405.45" x2="536.0999999999999" y2="405.45" stroke="#3c3c3c" stroke-width="0.8"/>
<rect x="299.6" y="305.2" width="238.70" height="120.30" fill="none" stroke="#3c3c3c" stroke-width="1.3"/>
<text x="6.40" y="292.40" font-family='"Liberation Sans", Arial, sans-serif' font-size="8.93" fill="#262626" text-anchor="start" textLength="160.5" lengthAdjust="spacingAndGlyphs">c) K1 controller experimental stability chart</text>
<text x="278.90" y="292.40" font-family='"Liberation Sans", Arial, sans-serif' font-size="8.93" fill="#262626" text-anchor="start" textLength="159.9" lengthAdjust="spacingAndGlyphs">d) K2 controller experimental stability chart</text>
<text x="21.90" y="306.80" font-family='"Liberation Sans", Arial, sans-serif' font-size="9.52" fill="#262626" text-anchor="end"  textLength="4.73" lengthAdjust="spacingAndGlyphs">b</text>
<text x="21.90" y="428.50" font-family='"Liberation Sans", Arial, sans-serif' font-size="9.52" fill="#262626" text-anchor="end"  textLength="4.73" lengthAdjust="spacingAndGlyphs">0</text>
<text x="30.40" y="434.80" font-family='"Liberation Sans", Arial, sans-serif' font-size="9.29" fill="#262626" text-anchor="middle"  textLength="14.35" lengthAdjust="spacingAndGlyphs">200</text>
<text x="67.57" y="434.80" font-family='"Liberation Sans", Arial, sans-serif' font-size="9.29" fill="#262626" text-anchor="middle"  textLength="14.35" lengthAdjust="spacingAndGlyphs">300</text>
<text x="107.73" y="434.80" font-family='"Liberation Sans", Arial, sans-serif' font-size="9.29" fill="#262626" text-anchor="middle"  textLength="14.35" lengthAdjust="spacingAndGlyphs">400</text>
<text x="147.90" y="434.80" font-family='"Liberation Sans", Arial, sans-serif' font-size="9.29" fill="#262626" text-anchor="middle"  textLength="14.35" lengthAdjust="spacingAndGlyphs">500</text>
<text x="188.07" y="434.80" font-family='"Liberation Sans", Arial, sans-serif' font-size="9.29" fill="#262626" text-anchor="middle"  textLength="14.35" lengthAdjust="spacingAndGlyphs">600</text>
<text x="228.23" y="434.80" font-family='"Liberation Sans", Arial, sans-serif' font-size="9.29" fill="#262626" text-anchor="middle"  textLength="14.35" lengthAdjust="spacingAndGlyphs">700</text>
<text x="268.40" y="434.80" font-family='"Liberation Sans", Arial, sans-serif' font-size="9.29" fill="#262626" text-anchor="middle"  textLength="14.35" lengthAdjust="spacingAndGlyphs">800</text>
<text x="149.70" y="444.20" font-family='"Liberation Sans", Arial, sans-serif' font-size="8.60" fill="#262626" text-anchor="middle" textLength="77.4" lengthAdjust="spacingAndGlyphs">Spindle speed (rpm)</text>
<text transform="translate(13.0,365.05) rotate(-90)" font-family='"Liberation Sans", Arial, sans-serif' font-size="8.33" fill="#262626" text-anchor="middle" textLength="68.2" lengthAdjust="spacingAndGlyphs">Depth of cut (mm)</text>
<text x="294.90" y="307.40" font-family='"Liberation Sans", Arial, sans-serif' font-size="9.52" fill="#262626" text-anchor="end"  textLength="4.73" lengthAdjust="spacingAndGlyphs">b</text>
<text x="294.90" y="428.50" font-family='"Liberation Sans", Arial, sans-serif' font-size="9.52" fill="#262626" text-anchor="end"  textLength="4.73" lengthAdjust="spacingAndGlyphs">0</text>
<text x="302.60" y="434.80" font-family='"Liberation Sans", Arial, sans-serif' font-size="9.29" fill="#262626" text-anchor="middle"  textLength="14.35" lengthAdjust="spacingAndGlyphs">200</text>
<text x="339.38" y="434.80" font-family='"Liberation Sans", Arial, sans-serif' font-size="9.29" fill="#262626" text-anchor="middle"  textLength="14.35" lengthAdjust="spacingAndGlyphs">300</text>
<text x="379.17" y="434.80" font-family='"Liberation Sans", Arial, sans-serif' font-size="9.29" fill="#262626" text-anchor="middle"  textLength="14.35" lengthAdjust="spacingAndGlyphs">400</text>
<text x="418.95" y="434.80" font-family='"Liberation Sans", Arial, sans-serif' font-size="9.29" fill="#262626" text-anchor="middle"  textLength="14.35" lengthAdjust="spacingAndGlyphs">500</text>
<text x="458.73" y="434.80" font-family='"Liberation Sans", Arial, sans-serif' font-size="9.29" fill="#262626" text-anchor="middle"  textLength="14.35" lengthAdjust="spacingAndGlyphs">600</text>
<text x="498.52" y="434.80" font-family='"Liberation Sans", Arial, sans-serif' font-size="9.29" fill="#262626" text-anchor="middle"  textLength="14.35" lengthAdjust="spacingAndGlyphs">700</text>
<text x="538.30" y="434.80" font-family='"Liberation Sans", Arial, sans-serif' font-size="9.29" fill="#262626" text-anchor="middle"  textLength="14.35" lengthAdjust="spacingAndGlyphs">800</text>
<text x="420.75" y="444.20" font-family='"Liberation Sans", Arial, sans-serif' font-size="8.60" fill="#262626" text-anchor="middle" textLength="77.4" lengthAdjust="spacingAndGlyphs">Spindle speed (rpm)</text>
<text transform="translate(286.0,365.35) rotate(-90)" font-family='"Liberation Sans", Arial, sans-serif' font-size="8.33" fill="#262626" text-anchor="middle" textLength="68.2" lengthAdjust="spacingAndGlyphs">Depth of cut (mm)</text>
<rect x="155.3" y="304.6" width="113.10" height="13.80" fill="#fff" stroke="#3c3c3c" stroke-width="1"/>
<circle cx="160.70" cy="311.70" r="2.4" fill="#1fbf1f"/>
<text x="164.70" y="315.30" font-family='"Liberation Sans", Arial, sans-serif' font-size="9.79" fill="#262626" text-anchor="start" textLength="27.6" lengthAdjust="spacingAndGlyphs">stable</text>
<path d="M199.70,309.50 L201.57,311.70 L199.70,313.90 L197.83,311.70 Z" fill="#ffee00" stroke="#505050" stroke-width="0.8"/>
<text x="203.10" y="315.30" font-family='"Liberation Sans", Arial, sans-serif' font-size="9.79" fill="#262626" text-anchor="start" textLength="18.5" lengthAdjust="spacingAndGlyphs">limit</text>
<path d="M225.80,309.70 L230.40,314.30 M230.40,309.70 L225.80,314.30" stroke="#ff0000" stroke-width="1.5" fill="none"/>
<text x="232.10" y="315.30" font-family='"Liberation Sans", Arial, sans-serif' font-size="9.79" fill="#262626" text-anchor="start" textLength="31.5" lengthAdjust="spacingAndGlyphs">chatter</text>
<rect x="425.5" y="305.2" width="112.80" height="13.20" fill="#fff" stroke="#3c3c3c" stroke-width="1"/>
<circle cx="430.90" cy="312.00" r="2.4" fill="#1fbf1f"/>
<text x="434.90" y="315.60" font-family='"Liberation Sans", Arial, sans-serif' font-size="9.79" fill="#262626" text-anchor="start" textLength="27.6" lengthAdjust="spacingAndGlyphs">stable</text>
<path d="M469.90,309.80 L471.77,312.00 L469.90,314.20 L468.03,312.00 Z" fill="#ffee00" stroke="#505050" stroke-width="0.8"/>
<text x="473.30" y="315.60" font-family='"Liberation Sans", Arial, sans-serif' font-size="9.79" fill="#262626" text-anchor="start" textLength="18.5" lengthAdjust="spacingAndGlyphs">limit</text>
<path d="M496.00,310.00 L500.60,314.60 M500.60,310.00 L496.00,314.60" stroke="#ff0000" stroke-width="1.5" fill="none"/>
<text x="502.30" y="315.60" font-family='"Liberation Sans", Arial, sans-serif' font-size="9.79" fill="#262626" text-anchor="start" textLength="31.5" lengthAdjust="spacingAndGlyphs">chatter</text>
<rect x="191.6" y="401.6" width="76.80" height="23.90" fill="#fff" stroke="#3c3c3c" stroke-width="1"/>
<line x1="194.8" y1="406.9" x2="203.3" y2="406.9" stroke="#000" stroke-width="1.6"/>
<text x="206.30" y="409.92" font-family='"Liberation Sans", Arial, sans-serif' font-size="7.81" fill="#262626" text-anchor="start" textLength="31.8" lengthAdjust="spacingAndGlyphs">Hammer</text>
<line x1="194.8" y1="417.6" x2="203.3" y2="417.6" stroke="#0000ff" stroke-width="1.6"/>
<text x="205.50" y="420.98" font-family='"Liberation Sans", Arial, sans-serif' font-size="9.40" fill="#262626" text-anchor="start" textLength="52" lengthAdjust="spacingAndGlyphs">SMFE 2 mm</text>
<rect x="461.8" y="380.0" width="76.50" height="45.50" fill="#fff" stroke="#3c3c3c" stroke-width="1"/>
<line x1="465.2" y1="385.3" x2="473.8" y2="385.3" stroke="#000" stroke-width="1.6"/>
<text x="476.60" y="388.32" font-family='"Liberation Sans", Arial, sans-serif' font-size="7.81" fill="#262626" text-anchor="start" textLength="31.9" lengthAdjust="spacingAndGlyphs">Hammer</text>
<line x1="465.2" y1="394.5" x2="473.8" y2="394.5" stroke="#ff1a8c" stroke-width="1.6"/>
<text x="475.80" y="397.88" font-family='"Liberation Sans", Arial, sans-serif' font-size="9.40" fill="#262626" text-anchor="start" textLength="52.6" lengthAdjust="spacingAndGlyphs">SMFE 1 mm</text>
<line x1="465.2" y1="406.4" x2="473.8" y2="406.4" stroke="#19e36b" stroke-width="1.6"/>
<text x="475.80" y="409.78" font-family='"Liberation Sans", Arial, sans-serif' font-size="9.40" fill="#262626" text-anchor="start" textLength="60.4" lengthAdjust="spacingAndGlyphs">SMFE 1.5 mm</text>
<line x1="465.2" y1="419.4" x2="473.8" y2="419.4" stroke="#0000ff" stroke-width="1.6"/>
<text x="475.80" y="422.78" font-family='"Liberation Sans", Arial, sans-serif' font-size="9.40" fill="#262626" text-anchor="start" textLength="52.6" lengthAdjust="spacingAndGlyphs">SMFE 2 mm</text>
<rect x="202.5" y="100.6" width="67.00" height="21.90" fill="#fff" stroke="#3c3c3c" stroke-width="1"/>
<line x1="206.0" y1="107.3" x2="215.2" y2="107.3" stroke="#000" stroke-width="1.6"/>
<text x="217.90" y="110.32" font-family='"Liberation Sans", Arial, sans-serif' font-size="7.81" fill="#262626" text-anchor="start" textLength="32.0" lengthAdjust="spacingAndGlyphs">Hammer</text>
<line x1="206.0" y1="117.0" x2="215.2" y2="117.0" stroke="#0000ff" stroke-width="1.6"/>
<text x="217.90" y="120.10" font-family='"Liberation Sans", Arial, sans-serif' font-size="8.60" fill="#262626" text-anchor="start" textLength="50.2" lengthAdjust="spacingAndGlyphs">SMFE&#160;&#160;2 mm</text>
<rect x="466.6" y="100.6" width="76.70" height="45.40" fill="#fff" stroke="#3c3c3c" stroke-width="1"/>
<line x1="470.2" y1="106.3" x2="478.6" y2="106.3" stroke="#000" stroke-width="1.6"/>
<text x="480.70" y="109.32" font-family='"Liberation Sans", Arial, sans-serif' font-size="7.81" fill="#262626" text-anchor="start" textLength="32.4" lengthAdjust="spacingAndGlyphs">Hammer</text>
<line x1="470.2" y1="115.6" x2="478.6" y2="115.6" stroke="#ff1a8c" stroke-width="1.6"/>
<text x="479.90" y="118.98" font-family='"Liberation Sans", Arial, sans-serif' font-size="9.40" fill="#262626" text-anchor="start" textLength="52.0" lengthAdjust="spacingAndGlyphs">SMFE 1 mm</text>
<line x1="470.2" y1="127.5" x2="478.6" y2="127.5" stroke="#19e36b" stroke-width="1.6"/>
<text x="479.90" y="130.88" font-family='"Liberation Sans", Arial, sans-serif' font-size="9.40" fill="#262626" text-anchor="start" textLength="60.2" lengthAdjust="spacingAndGlyphs">SMFE 1.5 mm</text>
<line x1="470.2" y1="140.3" x2="478.6" y2="140.3" stroke="#0000ff" stroke-width="1.6"/>
<text x="479.90" y="143.68" font-family='"Liberation Sans", Arial, sans-serif' font-size="9.40" fill="#262626" text-anchor="start" textLength="52.0" lengthAdjust="spacingAndGlyphs">SMFE 2 mm</text>
<rect x="249.80" y="123.30" width="19.90" height="14.90" fill="#fff" stroke="#4a4a4a" stroke-width="1.2"/><text x="251.30" y="132.50" font-family='"Liberation Serif", serif' font-size="8.9" fill="#262626">Φ<tspan font-style="italic" font-size="8.4" dx="0.5" dy="2.4" letter-spacing="1.5">yz</tspan></text>
<rect x="523.20" y="146.60" width="19.90" height="14.90" fill="#fff" stroke="#4a4a4a" stroke-width="1.2"/><text x="524.70" y="155.80" font-family='"Liberation Serif", serif' font-size="8.9" fill="#262626">Φ<tspan font-style="italic" font-size="8.4" dx="0.5" dy="2.4" letter-spacing="1.5">yz</tspan></text>
<g>
<path d="M226.5,132.2 L227.6,129.2 L230.2,127.4 L232.9,126.6 L235.6,127 L238.3,128.2 L240.7,129 L242.6,130.1 L244.2,132.5 L245,135.6 L245,138.7 L244.2,141.8 L242.2,144.9 L239.9,146.8 L238.3,149.2 L236.8,150.4 L235.2,148.8 L233.3,146.8 L231.7,144.9 L229.8,143.3 L228.2,142.6 L227.5,140.2 L228.3,137.6 L226.7,136.6 L226.3,134.8 Z" fill="#0e0e0e"/>
<path d="M228.8,133.5 L230.5,131 L232.5,132.2 L233.5,135 L232.8,138.5 L231,140.5 L229.5,139 Z" fill="#3f4148"/>
<path d="M233.5,139.5 L235.5,138.8 L236.8,141.2 L235.2,144.5 L233.8,142.8 Z" fill="#35373d"/>
<path d="M237,131.5 L239,131 L239.8,133 L238.2,134.5 Z" fill="#2c2c30"/>
<path d="M226.3,131 L228.8,131.4 L228.6,133.4 L226.4,133.2 Z" fill="#e6ae00"/>
<path d="M232.3,130.9 L234.2,128.3 L235.6,129 L234.6,131.9 Z" fill="#f0b800"/>
<path d="M238.2,140.3 L242.4,140.4 L242.2,143.2 L238.4,143.2 Z" fill="#e2aa00"/>
<path d="M235,146.3 L237.6,146 L238.4,148.8 L236.9,150.3 L235.5,149 Z" fill="#e0a800"/>
<path d="M228,141.4 L230.2,141.7 L229.7,143.4 L228.2,143.1 Z" fill="#d8a400"/>
</g></svg></body></html>
